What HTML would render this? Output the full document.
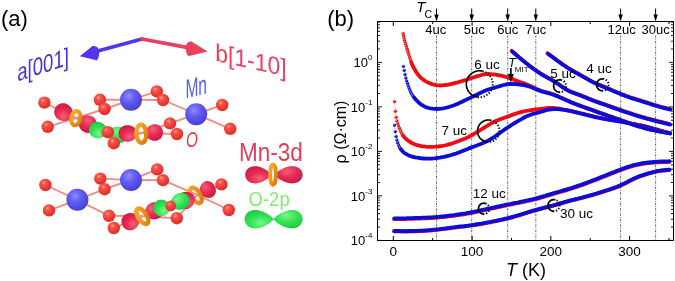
<!DOCTYPE html>
<html><head><meta charset="utf-8"><title>Figure</title>
<style>html,body{margin:0;padding:0;background:#fff;}svg{display:block}</style></head>
<body>
<svg width="675" height="281" viewBox="0 0 675 281">
<rect width="675" height="281" fill="#fff"/>

<defs>
<radialGradient id="gR" cx="0.38" cy="0.32" r="0.75">
 <stop offset="0" stop-color="#ffa898"/><stop offset="0.22" stop-color="#f8564c"/><stop offset="0.6" stop-color="#ee3a32"/><stop offset="1" stop-color="#d42a26"/>
</radialGradient>
<radialGradient id="gB" cx="0.40" cy="0.32" r="0.75">
 <stop offset="0" stop-color="#8f8cff"/><stop offset="0.4" stop-color="#605cf2"/><stop offset="0.85" stop-color="#4a44d8"/><stop offset="1" stop-color="#3a34b8"/>
</radialGradient>
<radialGradient id="gL" cx="0.45" cy="0.3" r="0.8">
 <stop offset="0" stop-color="#f8607c"/><stop offset="0.45" stop-color="#e62a52"/><stop offset="1" stop-color="#c01840"/>
</radialGradient>
<radialGradient id="gG" cx="0.45" cy="0.3" r="0.8">
 <stop offset="0" stop-color="#7cf58a"/><stop offset="0.45" stop-color="#32e455"/><stop offset="1" stop-color="#1cc040"/>
</radialGradient>
<linearGradient id="gO" x1="0" y1="0" x2="1" y2="1">
 <stop offset="0" stop-color="#f8ac30"/><stop offset="0.5" stop-color="#f0941a"/><stop offset="1" stop-color="#d47a10"/>
</linearGradient>
</defs>
<line x1="131" y1="99.8" x2="99.9" y2="99.8" stroke="#ef8e84" stroke-width="1.9" stroke-linecap="round"/>
<line x1="131" y1="99.8" x2="104.6" y2="109" stroke="#ef8e84" stroke-width="1.9" stroke-linecap="round"/>
<line x1="131" y1="99.8" x2="156.8" y2="91.4" stroke="#ef8e84" stroke-width="1.9" stroke-linecap="round"/>
<line x1="131" y1="99.8" x2="163" y2="100" stroke="#ef8e84" stroke-width="1.9" stroke-linecap="round"/>
<line x1="196.2" y1="114.2" x2="163" y2="100" stroke="#ef8e84" stroke-width="1.9" stroke-linecap="round"/>
<line x1="196.2" y1="114.2" x2="170" y2="123.4" stroke="#ef8e84" stroke-width="1.9" stroke-linecap="round"/>
<line x1="196.2" y1="114.2" x2="222.2" y2="105" stroke="#ef8e84" stroke-width="1.9" stroke-linecap="round"/>
<line x1="196.2" y1="114.2" x2="230.2" y2="128.8" stroke="#ef8e84" stroke-width="1.9" stroke-linecap="round"/>
<line x1="75.8" y1="118.2" x2="44.4" y2="102.6" stroke="#ef8e84" stroke-width="1.9" stroke-linecap="round"/>
<line x1="75.8" y1="118.2" x2="47.7" y2="126.8" stroke="#ef8e84" stroke-width="1.9" stroke-linecap="round"/>
<line x1="75.8" y1="118.2" x2="104.6" y2="109" stroke="#ef8e84" stroke-width="1.9" stroke-linecap="round"/>
<line x1="75.8" y1="118.2" x2="107.8" y2="132.2" stroke="#ef8e84" stroke-width="1.9" stroke-linecap="round"/>
<line x1="141.5" y1="133" x2="107.8" y2="132.2" stroke="#ef8e84" stroke-width="1.9" stroke-linecap="round"/>
<line x1="141.5" y1="133" x2="113.8" y2="143.2" stroke="#ef8e84" stroke-width="1.9" stroke-linecap="round"/>
<line x1="141.5" y1="133" x2="170" y2="123.4" stroke="#ef8e84" stroke-width="1.9" stroke-linecap="round"/>
<line x1="141.5" y1="133" x2="177" y2="134" stroke="#ef8e84" stroke-width="1.9" stroke-linecap="round"/>
<circle cx="44.4" cy="102.6" r="6.2" fill="url(#gR)"/>
<circle cx="47.7" cy="126.8" r="6.2" fill="url(#gR)"/>
<circle cx="99.9" cy="99.8" r="6.2" fill="url(#gR)"/>
<circle cx="156.8" cy="91.4" r="6.2" fill="url(#gR)"/>
<circle cx="131" cy="99.8" r="11" fill="url(#gB)"/>
<circle cx="196.2" cy="114.2" r="11" fill="url(#gB)"/>
<circle cx="104.6" cy="109" r="6.2" fill="url(#gR)"/>
<circle cx="163" cy="100" r="6.2" fill="url(#gR)"/>
<circle cx="222.2" cy="105" r="6.2" fill="url(#gR)"/>
<circle cx="230.2" cy="128.8" r="6.2" fill="url(#gR)"/>
<circle cx="170" cy="123.4" r="6.2" fill="url(#gR)"/>
<path transform="translate(75.8,118.2) rotate(26)" d="M3.2,-0.0 L3.3,-0.6 L3.5,-1.4 L3.8,-2.2 L4.3,-3.1 L4.9,-4.0 L5.6,-4.9 L6.4,-5.7 L7.3,-6.5 L8.2,-7.2 L9.3,-7.8 L10.4,-8.2 L11.5,-8.5 L12.6,-8.7 L13.7,-8.8 L14.8,-8.7 L15.9,-8.5 L17.0,-8.1 L17.9,-7.6 L18.8,-7.0 L19.6,-6.2 L20.3,-5.3 L20.9,-4.4 L21.4,-3.4 L21.7,-2.3 L21.9,-1.1 L22.0,-0.0 L21.9,1.1 L21.7,2.3 L21.4,3.4 L20.9,4.4 L20.3,5.3 L19.6,6.2 L18.8,7.0 L17.9,7.6 L17.0,8.1 L15.9,8.5 L14.8,8.7 L13.7,8.8 L12.6,8.7 L11.5,8.5 L10.4,8.2 L9.3,7.8 L8.2,7.2 L7.3,6.5 L6.4,5.7 L5.6,4.9 L4.9,4.0 L4.3,3.1 L3.8,2.2 L3.5,1.4 L3.3,0.6 L3.2,0.0Z" fill="url(#gL)"/>
<path transform="translate(75.8,118.2) rotate(206)" d="M3.2,-0.0 L3.3,-0.6 L3.5,-1.4 L3.8,-2.2 L4.3,-3.1 L5.0,-4.0 L5.7,-4.9 L6.5,-5.7 L7.5,-6.5 L8.5,-7.2 L9.6,-7.8 L10.7,-8.2 L11.9,-8.5 L13.1,-8.7 L14.3,-8.8 L15.5,-8.7 L16.6,-8.5 L17.7,-8.1 L18.7,-7.6 L19.7,-7.0 L20.5,-6.2 L21.2,-5.3 L21.9,-4.4 L22.4,-3.4 L22.7,-2.3 L22.9,-1.1 L23.0,-0.0 L22.9,1.1 L22.7,2.3 L22.4,3.4 L21.9,4.4 L21.2,5.3 L20.5,6.2 L19.7,7.0 L18.7,7.6 L17.7,8.1 L16.6,8.5 L15.5,8.7 L14.3,8.8 L13.1,8.7 L11.9,8.5 L10.7,8.2 L9.6,7.8 L8.5,7.2 L7.5,6.5 L6.5,5.7 L5.7,4.9 L5.0,4.0 L4.3,3.1 L3.8,2.2 L3.5,1.4 L3.3,0.6 L3.2,0.0Z" fill="url(#gL)"/>
<ellipse transform="translate(75.8,118.2) rotate(12)" cx="0" cy="0" rx="4.6" ry="7.2" fill="none" stroke="url(#gO)" stroke-width="4"/>
<path transform="translate(107.8,132.2) rotate(15)" d="M0.0,-0.0 L0.1,-0.5 L0.3,-1.3 L0.6,-2.1 L1.1,-2.9 L1.7,-3.8 L2.5,-4.6 L3.3,-5.4 L4.2,-6.1 L5.2,-6.7 L6.3,-7.2 L7.4,-7.7 L8.6,-8.0 L9.8,-8.1 L10.9,-8.2 L12.1,-8.1 L13.2,-7.9 L14.3,-7.6 L15.3,-7.1 L16.2,-6.5 L17.0,-5.8 L17.8,-5.0 L18.4,-4.1 L18.9,-3.1 L19.2,-2.1 L19.4,-1.1 L19.5,-0.0 L19.4,1.1 L19.2,2.1 L18.9,3.1 L18.4,4.1 L17.8,5.0 L17.0,5.8 L16.2,6.5 L15.3,7.1 L14.3,7.6 L13.2,7.9 L12.1,8.1 L10.9,8.2 L9.8,8.1 L8.6,8.0 L7.4,7.7 L6.3,7.2 L5.2,6.7 L4.2,6.1 L3.3,5.4 L2.5,4.6 L1.7,3.8 L1.1,2.9 L0.6,2.1 L0.3,1.3 L0.1,0.5 L0.0,0.0Z" fill="url(#gG)"/>
<path transform="translate(107.8,132.2) rotate(192)" d="M0.0,-0.0 L0.1,-0.5 L0.3,-1.3 L0.6,-2.1 L1.1,-2.9 L1.7,-3.8 L2.4,-4.6 L3.2,-5.4 L4.1,-6.1 L5.1,-6.7 L6.1,-7.2 L7.2,-7.7 L8.4,-8.0 L9.5,-8.1 L10.6,-8.2 L11.8,-8.1 L12.9,-7.9 L13.9,-7.6 L14.9,-7.1 L15.8,-6.5 L16.6,-5.8 L17.3,-5.0 L17.9,-4.1 L18.4,-3.1 L18.7,-2.1 L18.9,-1.1 L19.0,-0.0 L18.9,1.1 L18.7,2.1 L18.4,3.1 L17.9,4.1 L17.3,5.0 L16.6,5.8 L15.8,6.5 L14.9,7.1 L13.9,7.6 L12.9,7.9 L11.8,8.1 L10.6,8.2 L9.5,8.1 L8.4,8.0 L7.2,7.7 L6.1,7.2 L5.1,6.7 L4.1,6.1 L3.2,5.4 L2.4,4.6 L1.7,3.8 L1.1,2.9 L0.6,2.1 L0.3,1.3 L0.1,0.5 L0.0,0.0Z" fill="url(#gG)"/>
<path transform="translate(141.5,133) rotate(-2)" d="M3.2,-0.0 L3.3,-0.6 L3.5,-1.3 L3.8,-2.1 L4.2,-3.0 L4.8,-3.8 L5.5,-4.6 L6.3,-5.4 L7.2,-6.1 L8.1,-6.8 L9.1,-7.3 L10.2,-7.7 L11.2,-8.1 L12.4,-8.2 L13.5,-8.3 L14.5,-8.2 L15.6,-8.0 L16.6,-7.6 L17.5,-7.2 L18.4,-6.6 L19.2,-5.8 L19.9,-5.0 L20.5,-4.1 L20.9,-3.2 L21.2,-2.1 L21.4,-1.1 L21.5,-0.0 L21.4,1.1 L21.2,2.1 L20.9,3.2 L20.5,4.1 L19.9,5.0 L19.2,5.8 L18.4,6.6 L17.5,7.2 L16.6,7.6 L15.6,8.0 L14.5,8.2 L13.5,8.3 L12.4,8.2 L11.2,8.1 L10.2,7.7 L9.1,7.3 L8.1,6.8 L7.2,6.1 L6.3,5.4 L5.5,4.6 L4.8,3.8 L4.2,3.0 L3.8,2.1 L3.5,1.3 L3.3,0.6 L3.2,0.0Z" fill="url(#gL)"/>
<path transform="translate(141.5,133) rotate(178)" d="M3.2,-0.0 L3.3,-0.6 L3.5,-1.3 L3.8,-2.1 L4.3,-3.0 L5.0,-3.8 L5.7,-4.6 L6.5,-5.4 L7.5,-6.1 L8.5,-6.8 L9.6,-7.3 L10.7,-7.7 L11.9,-8.1 L13.1,-8.2 L14.3,-8.3 L15.5,-8.2 L16.6,-8.0 L17.7,-7.6 L18.7,-7.2 L19.7,-6.6 L20.5,-5.8 L21.2,-5.0 L21.9,-4.1 L22.4,-3.2 L22.7,-2.1 L22.9,-1.1 L23.0,-0.0 L22.9,1.1 L22.7,2.1 L22.4,3.2 L21.9,4.1 L21.2,5.0 L20.5,5.8 L19.7,6.6 L18.7,7.2 L17.7,7.6 L16.6,8.0 L15.5,8.2 L14.3,8.3 L13.1,8.2 L11.9,8.1 L10.7,7.7 L9.6,7.3 L8.5,6.8 L7.5,6.1 L6.5,5.4 L5.7,4.6 L5.0,3.8 L4.3,3.0 L3.8,2.1 L3.5,1.3 L3.3,0.6 L3.2,0.0Z" fill="url(#gL)"/>
<ellipse transform="translate(141.3,133.8) rotate(-3)" cx="0" cy="0" rx="5" ry="9" fill="none" stroke="url(#gO)" stroke-width="4.4"/>
<circle cx="107.8" cy="132.2" r="6.2" fill="url(#gR)"/>
<circle cx="113.8" cy="143.2" r="6.2" fill="url(#gR)"/>
<circle cx="177" cy="134" r="6.2" fill="url(#gR)"/>
<line x1="77.4" y1="199.8" x2="45.4" y2="185" stroke="#ef8e84" stroke-width="1.9" stroke-linecap="round"/>
<line x1="77.4" y1="199.8" x2="49" y2="210.4" stroke="#ef8e84" stroke-width="1.9" stroke-linecap="round"/>
<line x1="77.4" y1="199.8" x2="104.6" y2="189.2" stroke="#ef8e84" stroke-width="1.9" stroke-linecap="round"/>
<line x1="77.4" y1="199.8" x2="109" y2="215.8" stroke="#ef8e84" stroke-width="1.9" stroke-linecap="round"/>
<line x1="131" y1="180" x2="100.3" y2="178.6" stroke="#ef8e84" stroke-width="1.9" stroke-linecap="round"/>
<line x1="131" y1="180" x2="104.6" y2="189.2" stroke="#ef8e84" stroke-width="1.9" stroke-linecap="round"/>
<line x1="131" y1="180" x2="157.2" y2="169.4" stroke="#ef8e84" stroke-width="1.9" stroke-linecap="round"/>
<line x1="131" y1="180" x2="162.9" y2="180.2" stroke="#ef8e84" stroke-width="1.9" stroke-linecap="round"/>
<line x1="142.3" y1="216.2" x2="109" y2="215.8" stroke="#ef8e84" stroke-width="1.9" stroke-linecap="round"/>
<line x1="142.3" y1="216.2" x2="113.8" y2="228" stroke="#ef8e84" stroke-width="1.9" stroke-linecap="round"/>
<line x1="142.3" y1="216.2" x2="176.8" y2="218.2" stroke="#ef8e84" stroke-width="1.9" stroke-linecap="round"/>
<line x1="197.3" y1="194.8" x2="162.9" y2="180.2" stroke="#ef8e84" stroke-width="1.9" stroke-linecap="round"/>
<line x1="197.3" y1="194.8" x2="221.4" y2="184.4" stroke="#ef8e84" stroke-width="1.9" stroke-linecap="round"/>
<line x1="197.3" y1="194.8" x2="228.8" y2="210" stroke="#ef8e84" stroke-width="1.9" stroke-linecap="round"/>
<line x1="197.3" y1="194.8" x2="176.8" y2="218.2" stroke="#ef8e84" stroke-width="1.9" stroke-linecap="round"/>
<circle cx="45.4" cy="185" r="6.2" fill="url(#gR)"/>
<circle cx="49" cy="210.4" r="6.2" fill="url(#gR)"/>
<circle cx="100.3" cy="178.6" r="6.2" fill="url(#gR)"/>
<circle cx="157.2" cy="169.4" r="6.2" fill="url(#gR)"/>
<circle cx="77.4" cy="199.8" r="11" fill="url(#gB)"/>
<circle cx="131" cy="180" r="11" fill="url(#gB)"/>
<circle cx="104.6" cy="189.2" r="6.2" fill="url(#gR)"/>
<circle cx="162.9" cy="180.2" r="6.2" fill="url(#gR)"/>
<circle cx="221.4" cy="184.4" r="6.2" fill="url(#gR)"/>
<circle cx="228.8" cy="210" r="6.2" fill="url(#gR)"/>
<circle cx="109" cy="215.8" r="6.2" fill="url(#gR)"/>
<path transform="translate(142.3,216.2) rotate(-24)" d="M3.2,-0.0 L3.3,-0.6 L3.5,-1.3 L3.8,-2.2 L4.2,-3.1 L4.8,-3.9 L5.5,-4.8 L6.3,-5.6 L7.2,-6.4 L8.1,-7.0 L9.1,-7.6 L10.2,-8.0 L11.2,-8.4 L12.4,-8.5 L13.5,-8.6 L14.5,-8.5 L15.6,-8.3 L16.6,-7.9 L17.5,-7.4 L18.4,-6.8 L19.2,-6.1 L19.9,-5.2 L20.5,-4.3 L20.9,-3.3 L21.2,-2.2 L21.4,-1.1 L21.5,-0.0 L21.4,1.1 L21.2,2.2 L20.9,3.3 L20.5,4.3 L19.9,5.2 L19.2,6.1 L18.4,6.8 L17.5,7.4 L16.6,7.9 L15.6,8.3 L14.5,8.5 L13.5,8.6 L12.4,8.5 L11.2,8.4 L10.2,8.0 L9.1,7.6 L8.1,7.0 L7.2,6.4 L6.3,5.6 L5.5,4.8 L4.8,3.9 L4.2,3.1 L3.8,2.2 L3.5,1.3 L3.3,0.6 L3.2,0.0Z" fill="url(#gL)"/>
<path transform="translate(142.3,216.2) rotate(156)" d="M3.2,-0.0 L3.3,-0.6 L3.5,-1.3 L3.8,-2.2 L4.3,-3.1 L4.9,-3.9 L5.6,-4.8 L6.4,-5.6 L7.3,-6.4 L8.2,-7.0 L9.3,-7.6 L10.4,-8.0 L11.5,-8.4 L12.6,-8.5 L13.7,-8.6 L14.8,-8.5 L15.9,-8.3 L17.0,-7.9 L17.9,-7.4 L18.8,-6.8 L19.6,-6.1 L20.3,-5.2 L20.9,-4.3 L21.4,-3.3 L21.7,-2.2 L21.9,-1.1 L22.0,-0.0 L21.9,1.1 L21.7,2.2 L21.4,3.3 L20.9,4.3 L20.3,5.2 L19.6,6.1 L18.8,6.8 L17.9,7.4 L17.0,7.9 L15.9,8.3 L14.8,8.5 L13.7,8.6 L12.6,8.5 L11.5,8.4 L10.4,8.0 L9.3,7.6 L8.2,7.0 L7.3,6.4 L6.4,5.6 L5.6,4.8 L4.9,3.9 L4.3,3.1 L3.8,2.2 L3.5,1.3 L3.3,0.6 L3.2,0.0Z" fill="url(#gL)"/>
<ellipse transform="translate(142.3,216.2) rotate(-33)" cx="0" cy="0" rx="4.2" ry="8.8" fill="none" stroke="url(#gO)" stroke-width="4.6"/>
<path transform="translate(197.3,194.8) rotate(-26)" d="M3.2,-0.0 L3.3,-0.6 L3.4,-1.3 L3.7,-2.2 L4.1,-3.1 L4.6,-3.9 L5.2,-4.8 L5.9,-5.6 L6.7,-6.4 L7.6,-7.0 L8.5,-7.6 L9.4,-8.0 L10.4,-8.4 L11.4,-8.5 L12.3,-8.6 L13.3,-8.5 L14.2,-8.3 L15.1,-7.9 L16.0,-7.4 L16.8,-6.8 L17.5,-6.1 L18.1,-5.2 L18.6,-4.3 L19.0,-3.3 L19.3,-2.2 L19.4,-1.1 L19.5,-0.0 L19.4,1.1 L19.3,2.2 L19.0,3.3 L18.6,4.3 L18.1,5.2 L17.5,6.1 L16.8,6.8 L16.0,7.4 L15.1,7.9 L14.2,8.3 L13.3,8.5 L12.3,8.6 L11.4,8.5 L10.4,8.4 L9.4,8.0 L8.5,7.6 L7.6,7.0 L6.7,6.4 L5.9,5.6 L5.2,4.8 L4.6,3.9 L4.1,3.1 L3.7,2.2 L3.4,1.3 L3.3,0.6 L3.2,0.0Z" fill="url(#gL)"/>
<ellipse transform="translate(195.8,195.4) rotate(-32)" cx="0" cy="0" rx="4.4" ry="8.6" fill="none" stroke="url(#gO)" stroke-width="4.4"/>
<path transform="translate(197.3,194.8) rotate(154)" d="M3.2,-0.0 L3.3,-0.6 L3.5,-1.3 L3.8,-2.2 L4.2,-3.1 L4.8,-3.9 L5.4,-4.8 L6.2,-5.6 L7.0,-6.4 L8.0,-7.0 L8.9,-7.6 L10.0,-8.0 L11.0,-8.4 L12.1,-8.5 L13.2,-8.6 L14.2,-8.5 L15.3,-8.3 L16.2,-7.9 L17.2,-7.4 L18.0,-6.8 L18.8,-6.1 L19.4,-5.2 L20.0,-4.3 L20.4,-3.3 L20.7,-2.2 L20.9,-1.1 L21.0,-0.0 L20.9,1.1 L20.7,2.2 L20.4,3.3 L20.0,4.3 L19.4,5.2 L18.8,6.1 L18.0,6.8 L17.2,7.4 L16.2,7.9 L15.3,8.3 L14.2,8.5 L13.2,8.6 L12.1,8.5 L11.0,8.4 L10.0,8.0 L8.9,7.6 L8.0,7.0 L7.0,6.4 L6.2,5.6 L5.4,4.8 L4.8,3.9 L4.2,3.1 L3.8,2.2 L3.5,1.3 L3.3,0.6 L3.2,0.0Z" fill="url(#gL)"/>
<path transform="translate(170.7,205.9) rotate(-25)" d="M0.0,-0.0 L0.1,-0.6 L0.3,-1.3 L0.6,-2.1 L1.1,-3.0 L1.8,-3.8 L2.5,-4.6 L3.4,-5.4 L4.3,-6.1 L5.4,-6.8 L6.5,-7.3 L7.6,-7.7 L8.8,-8.1 L10.0,-8.2 L11.2,-8.3 L12.4,-8.2 L13.5,-8.0 L14.6,-7.6 L15.7,-7.2 L16.6,-6.6 L17.5,-5.8 L18.2,-5.0 L18.9,-4.1 L19.4,-3.2 L19.7,-2.1 L19.9,-1.1 L20.0,-0.0 L19.9,1.1 L19.7,2.1 L19.4,3.2 L18.9,4.1 L18.2,5.0 L17.5,5.8 L16.6,6.6 L15.7,7.2 L14.6,7.6 L13.5,8.0 L12.4,8.2 L11.2,8.3 L10.0,8.2 L8.8,8.1 L7.6,7.7 L6.5,7.3 L5.4,6.8 L4.3,6.1 L3.4,5.4 L2.5,4.6 L1.8,3.8 L1.1,3.0 L0.6,2.1 L0.3,1.3 L0.1,0.6 L0.0,0.0Z" fill="url(#gG)"/>
<path transform="translate(170.7,205.9) rotate(168)" d="M0.0,-0.0 L0.1,-0.6 L0.3,-1.3 L0.6,-2.1 L1.0,-3.0 L1.5,-3.8 L2.2,-4.6 L2.9,-5.4 L3.8,-6.1 L4.7,-6.8 L5.6,-7.3 L6.7,-7.7 L7.7,-8.1 L8.8,-8.2 L9.8,-8.3 L10.8,-8.2 L11.9,-8.0 L12.8,-7.6 L13.7,-7.2 L14.6,-6.6 L15.3,-5.8 L16.0,-5.0 L16.5,-4.1 L16.9,-3.2 L17.2,-2.1 L17.4,-1.1 L17.5,-0.0 L17.4,1.1 L17.2,2.1 L16.9,3.2 L16.5,4.1 L16.0,5.0 L15.3,5.8 L14.6,6.6 L13.7,7.2 L12.8,7.6 L11.9,8.0 L10.8,8.2 L9.8,8.3 L8.8,8.2 L7.7,8.1 L6.7,7.7 L5.6,7.3 L4.7,6.8 L3.8,6.1 L2.9,5.4 L2.2,4.6 L1.5,3.8 L1.0,3.0 L0.6,2.1 L0.3,1.3 L0.1,0.6 L0.0,0.0Z" fill="url(#gG)"/>
<circle cx="170.7" cy="205.9" r="5.3" fill="url(#gR)"/>
<circle cx="113.8" cy="228" r="6.2" fill="url(#gR)"/>
<circle cx="176.8" cy="218.2" r="6.2" fill="url(#gR)"/>
<line x1="142" y1="39" x2="94" y2="52" stroke="#5633ee" stroke-width="3.7" stroke-linecap="round"/>
<path d="M79.8,56.2 L92.5,46 Q99.5,45.5 99.2,52.5 Q99,59 96.5,60.2 Z" fill="#5633ee"/>
<line x1="142" y1="39" x2="188" y2="47.6" stroke="#ec3e5e" stroke-width="3.7" stroke-linecap="round"/>
<path d="M207.6,51.4 L191,41.2 Q185.5,42 185.8,48.5 Q186,55 189,56 Z" fill="#ec3e5e"/>
<text x="1" y="26" font-size="22" font-family="Liberation Sans, Arial, sans-serif">(a)</text>
<text x="327.2" y="26" font-size="22" font-family="Liberation Sans, Arial, sans-serif">(b)</text>
<text transform="translate(17.2,81.6) skewY(-18) scale(0.745,1)" font-size="25" fill="#4a2edc"  font-family="Liberation Sans, Arial, sans-serif">a[001]</text>
<text transform="translate(215.3,60.8) skewY(12.5) scale(0.935,1)" font-size="24.5" fill="#ec3e5e"  font-family="Liberation Sans, Arial, sans-serif">b[1-10]</text>
<text transform="translate(185.4,98.6) skewY(-13) scale(0.575,1)" font-size="27" fill="#5560e8"  font-family="Liberation Sans, Arial, sans-serif">Mn</text>
<text transform="translate(185.9,146.6) rotate(0) scale(0.68,1)" font-size="22.5" fill="#e03c34" font-style="italic" font-family="Liberation Sans, Arial, sans-serif">O</text>
<text transform="translate(239,161.3) rotate(0) scale(0.9,1)" font-size="25" fill="#e0405e"  font-family="Liberation Sans, Arial, sans-serif">Mn-3d</text>
<text transform="translate(248.6,205.8) rotate(0) scale(0.88,1)" font-size="21" fill="#80ee72"  font-family="Liberation Sans, Arial, sans-serif">O-2p</text>
<path transform="translate(273,174.8) rotate(0)" d="M1.5,-0.0 L1.6,-0.2 L1.9,-0.6 L2.4,-1.1 L3.1,-1.8 L4.0,-2.5 L5.0,-3.4 L6.2,-4.2 L7.6,-5.0 L9.0,-5.8 L10.6,-6.6 L12.2,-7.2 L13.9,-7.8 L15.6,-8.2 L17.2,-8.5 L18.9,-8.6 L20.5,-8.5 L22.1,-8.3 L23.5,-7.9 L24.9,-7.3 L26.1,-6.6 L27.1,-5.8 L28.0,-4.8 L28.7,-3.7 L29.2,-2.5 L29.5,-1.3 L29.6,-0.0 L29.5,1.3 L29.2,2.5 L28.7,3.7 L28.0,4.8 L27.1,5.8 L26.1,6.6 L24.9,7.3 L23.5,7.9 L22.1,8.3 L20.5,8.5 L18.9,8.6 L17.2,8.5 L15.6,8.2 L13.9,7.8 L12.2,7.2 L10.6,6.6 L9.0,5.8 L7.6,5.0 L6.2,4.2 L5.0,3.4 L4.0,2.5 L3.1,1.8 L2.4,1.1 L1.9,0.6 L1.6,0.2 L1.5,0.0Z" fill="url(#gL)"/>
<path transform="translate(273,174.8) rotate(180)" d="M1.5,-0.0 L1.6,-0.2 L1.9,-0.6 L2.4,-1.1 L3.0,-1.8 L3.8,-2.5 L4.8,-3.4 L5.9,-4.2 L7.2,-5.0 L8.5,-5.8 L10.0,-6.6 L11.5,-7.2 L13.1,-7.8 L14.7,-8.2 L16.2,-8.5 L17.8,-8.6 L19.3,-8.5 L20.8,-8.3 L22.1,-7.9 L23.4,-7.3 L24.5,-6.6 L25.5,-5.8 L26.3,-4.8 L26.9,-3.7 L27.4,-2.5 L27.7,-1.3 L27.8,-0.0 L27.7,1.3 L27.4,2.5 L26.9,3.7 L26.3,4.8 L25.5,5.8 L24.5,6.6 L23.4,7.3 L22.1,7.9 L20.8,8.3 L19.3,8.5 L17.8,8.6 L16.2,8.5 L14.7,8.2 L13.1,7.8 L11.5,7.2 L10.0,6.6 L8.5,5.8 L7.2,5.0 L5.9,4.2 L4.8,3.4 L3.8,2.5 L3.0,1.8 L2.4,1.1 L1.9,0.6 L1.6,0.2 L1.5,0.0Z" fill="url(#gL)"/>
<ellipse transform="translate(273,174.6) rotate(0)" cx="0" cy="0" rx="2.9" ry="10.2" fill="none" stroke="url(#gO)" stroke-width="3.8"/>
<path transform="translate(273.6,219.2) rotate(0)" d="M0.0,-0.0 L0.1,-0.2 L0.4,-0.6 L0.9,-1.2 L1.7,-1.9 L2.6,-2.7 L3.6,-3.6 L4.9,-4.5 L6.3,-5.4 L7.8,-6.3 L9.4,-7.0 L11.0,-7.8 L12.8,-8.3 L14.5,-8.8 L16.2,-9.1 L18.0,-9.2 L19.6,-9.1 L21.2,-8.9 L22.7,-8.5 L24.1,-7.9 L25.4,-7.1 L26.4,-6.2 L27.3,-5.1 L28.1,-3.9 L28.6,-2.7 L28.9,-1.3 L29.0,-0.0 L28.9,1.3 L28.6,2.7 L28.1,3.9 L27.3,5.1 L26.4,6.2 L25.4,7.1 L24.1,7.9 L22.7,8.5 L21.2,8.9 L19.6,9.1 L18.0,9.2 L16.2,9.1 L14.5,8.8 L12.8,8.3 L11.0,7.8 L9.4,7.0 L7.8,6.3 L6.3,5.4 L4.9,4.5 L3.6,3.6 L2.6,2.7 L1.7,1.9 L0.9,1.2 L0.4,0.6 L0.1,0.2 L0.0,0.0Z" fill="url(#gG)"/>
<path transform="translate(273.6,219.2) rotate(180)" d="M0.0,-0.0 L0.1,-0.2 L0.4,-0.6 L0.9,-1.2 L1.7,-1.9 L2.6,-2.7 L3.6,-3.6 L4.9,-4.5 L6.3,-5.4 L7.8,-6.3 L9.4,-7.0 L11.0,-7.8 L12.8,-8.3 L14.5,-8.8 L16.2,-9.1 L18.0,-9.2 L19.6,-9.1 L21.2,-8.9 L22.7,-8.5 L24.1,-7.9 L25.4,-7.1 L26.4,-6.2 L27.3,-5.1 L28.1,-3.9 L28.6,-2.7 L28.9,-1.3 L29.0,-0.0 L28.9,1.3 L28.6,2.7 L28.1,3.9 L27.3,5.1 L26.4,6.2 L25.4,7.1 L24.1,7.9 L22.7,8.5 L21.2,8.9 L19.6,9.1 L18.0,9.2 L16.2,9.1 L14.5,8.8 L12.8,8.3 L11.0,7.8 L9.4,7.0 L7.8,6.3 L6.3,5.4 L4.9,4.5 L3.6,3.6 L2.6,2.7 L1.7,1.9 L0.9,1.2 L0.4,0.6 L0.1,0.2 L0.0,0.0Z" fill="url(#gG)"/>
<defs><radialGradient id="gMR" cx="0.35" cy="0.3" r="0.7"><stop offset="0" stop-color="#ff8a8a"/><stop offset="0.55" stop-color="#ee0c12"/><stop offset="1" stop-color="#d0080c"/></radialGradient><radialGradient id="gMB" cx="0.35" cy="0.3" r="0.7"><stop offset="0" stop-color="#8a8aff"/><stop offset="0.55" stop-color="#0c0cd8"/><stop offset="1" stop-color="#0808b8"/></radialGradient></defs>
<line x1="436.5" y1="35.5" x2="436.5" y2="240.5" stroke="#555" stroke-width="0.9" stroke-dasharray="2.2 1.2 0.8 1.2"/>
<line x1="436.5" y1="8.5" x2="436.5" y2="17" stroke="#000" stroke-width="1"/>
<path d="M434.3,14.5 L438.7,14.5 L436.5,21.5 Z" fill="#000"/>
<line x1="471.7" y1="35.5" x2="471.7" y2="240.5" stroke="#555" stroke-width="0.9" stroke-dasharray="2.2 1.2 0.8 1.2"/>
<line x1="471.7" y1="8.5" x2="471.7" y2="17" stroke="#000" stroke-width="1"/>
<path d="M469.5,14.5 L473.9,14.5 L471.7,21.5 Z" fill="#000"/>
<line x1="507.7" y1="35.5" x2="507.7" y2="240.5" stroke="#555" stroke-width="0.9" stroke-dasharray="2.2 1.2 0.8 1.2"/>
<line x1="507.7" y1="8.5" x2="507.7" y2="17" stroke="#000" stroke-width="1"/>
<path d="M505.5,14.5 L509.9,14.5 L507.7,21.5 Z" fill="#000"/>
<line x1="535.8" y1="35.5" x2="535.8" y2="240.5" stroke="#555" stroke-width="0.9" stroke-dasharray="2.2 1.2 0.8 1.2"/>
<line x1="535.8" y1="8.5" x2="535.8" y2="17" stroke="#000" stroke-width="1"/>
<path d="M533.5999999999999,14.5 L538.0,14.5 L535.8,21.5 Z" fill="#000"/>
<line x1="620.6" y1="35.5" x2="620.6" y2="240.5" stroke="#555" stroke-width="0.9" stroke-dasharray="2.2 1.2 0.8 1.2"/>
<line x1="620.6" y1="8.5" x2="620.6" y2="17" stroke="#000" stroke-width="1"/>
<path d="M618.4,14.5 L622.8000000000001,14.5 L620.6,21.5 Z" fill="#000"/>
<line x1="655.6" y1="35.5" x2="655.6" y2="240.5" stroke="#555" stroke-width="0.9" stroke-dasharray="2.2 1.2 0.8 1.2"/>
<line x1="655.6" y1="8.5" x2="655.6" y2="17" stroke="#000" stroke-width="1"/>
<path d="M653.4,14.5 L657.8000000000001,14.5 L655.6,21.5 Z" fill="#000"/>
<path d="M394.2,219.2 L396.1,219.2 L398.0,219.1 L399.9,219.1 L401.8,219.0 L403.6,219.0 L405.5,219.0 L407.4,218.9 L409.3,218.9 L411.2,218.8 L413.1,218.8 L415.0,218.7 L416.9,218.6 L418.8,218.6 L420.6,218.5 L422.5,218.4 L424.4,218.4 L426.3,218.3 L428.2,218.2 L430.1,218.1 L432.0,218.0 L433.9,217.8 L435.7,217.7 L437.6,217.5 L439.5,217.4 L441.4,217.2 L443.3,217.0 L445.2,216.8 L447.0,216.6 L448.9,216.4 L450.8,216.2 L452.7,216.0 L454.5,215.7 L456.4,215.4 L458.3,215.2 L460.1,214.9 L462.0,214.6 L463.9,214.3 L465.7,214.0 L467.6,213.6 L469.5,213.3 L471.3,212.9 L473.2,212.6 L475.0,212.2 L476.9,211.8 L478.7,211.4 L480.6,211.0 L482.4,210.6 L484.3,210.2 L486.1,209.8 L488.0,209.4 L489.8,209.0 L491.6,208.6 L493.5,208.2 L495.3,207.8 L497.2,207.4 L499.0,207.0 L500.9,206.6 L502.7,206.2 L504.6,205.8 L506.4,205.4 L508.3,205.0 L510.1,204.7 L512.0,204.3 L513.8,203.9 L515.7,203.5 L517.5,203.2 L519.4,202.8 L521.3,202.4 L523.1,202.0 L525.0,201.6 L526.8,201.2 L528.6,200.8 L530.5,200.4 L532.3,200.0 L534.2,199.5 L536.0,199.1 L537.8,198.6 L539.6,198.1 L541.5,197.5 L543.3,197.0 L545.1,196.5 L546.9,195.9 L548.7,195.4 L550.5,194.8 L552.3,194.3 L554.1,193.7 L555.9,193.2 L557.8,192.7 L559.6,192.2 L561.4,191.7 L563.2,191.1 L565.0,190.6 L566.8,190.1 L568.6,189.5 L570.5,189.0 L572.3,188.4 L574.1,187.8 L575.8,187.2 L577.6,186.6 L579.4,186.0 L581.2,185.4 L583.0,184.7 L584.8,184.1 L586.5,183.4 L588.3,182.8 L590.1,182.1 L591.8,181.4 L593.6,180.7 L595.4,180.1 L597.1,179.4 L598.9,178.7 L600.6,178.0 L602.4,177.3 L604.1,176.6 L605.9,175.9 L607.6,175.2 L609.4,174.5 L611.2,173.8 L612.9,173.1 L614.7,172.4 L616.4,171.7 L618.2,171.0 L620.0,170.4 L621.7,169.7 L623.5,169.1 L625.3,168.4 L627.1,167.8 L628.9,167.2 L630.7,166.7 L632.5,166.1 L634.3,165.6 L636.2,165.2 L638.0,164.8 L639.9,164.4 L641.7,164.0 L643.6,163.7 L645.5,163.5 L647.3,163.2 L649.2,163.0 L651.1,162.8 L653.0,162.7 L654.9,162.5 L656.8,162.4 L658.6,162.3 L660.5,162.2 L662.4,162.1 L664.3,162.1 L666.2,162.0 L668.1,162.0 L669.5,161.9" fill="none" stroke="#ee0c12" stroke-width="3.8" stroke-linecap="round" stroke-linejoin="round"/>
<path d="M394.2,218.5 L396.1,218.5 L398.0,218.4 L399.9,218.4 L401.8,218.3 L403.6,218.3 L405.5,218.3 L407.4,218.2 L409.3,218.2 L411.2,218.1 L413.1,218.1 L415.0,218.0 L416.9,217.9 L418.8,217.9 L420.6,217.8 L422.5,217.7 L424.4,217.7 L426.3,217.6 L428.2,217.5 L430.1,217.4 L432.0,217.3 L433.9,217.1 L435.7,217.0 L437.6,216.8 L439.5,216.7 L441.4,216.5 L443.3,216.3 L445.2,216.1 L447.0,215.9 L448.9,215.7 L450.8,215.5 L452.7,215.3 L454.5,215.0 L456.4,214.7 L458.3,214.5 L460.1,214.2 L462.0,213.9 L463.9,213.6 L465.7,213.3 L467.6,212.9 L469.5,212.6 L471.3,212.2 L473.2,211.9 L475.0,211.5 L476.9,211.1 L478.7,210.7 L480.6,210.3 L482.4,209.9 L484.3,209.5 L486.1,209.1 L488.0,208.7 L489.8,208.3 L491.6,207.9 L493.5,207.5 L495.3,207.1 L497.2,206.7 L499.0,206.3 L500.9,205.9 L502.7,205.5 L504.6,205.1 L506.4,204.7 L508.3,204.3 L510.1,204.0 L512.0,203.6 L513.8,203.2 L515.7,202.8 L517.5,202.5 L519.4,202.1 L521.3,201.7 L523.1,201.3 L525.0,200.9 L526.8,200.5 L528.6,200.1 L530.5,199.7 L532.3,199.3 L534.2,198.8 L536.0,198.4 L537.8,197.9 L539.6,197.4 L541.5,196.8 L543.3,196.3 L545.1,195.8 L546.9,195.2 L548.7,194.7 L550.5,194.1 L552.3,193.6 L554.1,193.0 L555.9,192.5 L557.8,192.0 L559.6,191.5 L561.4,191.0 L563.2,190.4 L565.0,189.9 L566.8,189.4 L568.6,188.8 L570.5,188.3 L572.3,187.7 L574.1,187.1 L575.8,186.5 L577.6,185.9 L579.4,185.3 L581.2,184.7 L583.0,184.0 L584.8,183.4 L586.5,182.7 L588.3,182.1 L590.1,181.4 L591.8,180.7 L593.6,180.0 L595.4,179.4 L597.1,178.7 L598.9,178.0 L600.6,177.3 L602.4,176.6 L604.1,175.9 L605.9,175.2 L607.6,174.5 L609.4,173.8 L611.2,173.1 L612.9,172.4 L614.7,171.7 L616.4,171.0 L618.2,170.3 L620.0,169.7 L621.7,169.0 L623.5,168.4 L625.3,167.7 L627.1,167.1 L628.9,166.5 L630.7,166.0 L632.5,165.4 L634.3,164.9 L636.2,164.5 L638.0,164.1 L639.9,163.7 L641.7,163.3 L643.6,163.0 L645.5,162.8 L647.3,162.5 L649.2,162.3 L651.1,162.1 L653.0,162.0 L654.9,161.8 L656.8,161.7 L658.6,161.6 L660.5,161.5 L662.4,161.4 L664.3,161.4 L666.2,161.3 L668.1,161.3 L669.5,161.2" fill="none" stroke="#0c0cd8" stroke-width="3.8" stroke-linecap="round" stroke-linejoin="round"/>
<path d="M394.2,231.4 L396.1,231.4 L398.0,231.4 L399.9,231.4 L401.8,231.5 L403.7,231.5 L405.6,231.5 L407.5,231.5 L409.4,231.4 L411.3,231.4 L413.2,231.4 L415.1,231.3 L417.0,231.3 L418.8,231.2 L420.7,231.1 L422.6,231.0 L424.5,230.9 L426.4,230.8 L428.3,230.6 L430.2,230.5 L432.1,230.3 L434.0,230.1 L435.9,229.9 L437.7,229.7 L439.6,229.5 L441.5,229.2 L443.4,229.0 L445.3,228.8 L447.1,228.5 L449.0,228.3 L450.9,228.0 L452.8,227.8 L454.7,227.6 L456.6,227.3 L458.4,227.1 L460.3,226.9 L462.2,226.7 L464.1,226.5 L466.0,226.2 L467.9,226.0 L469.7,225.7 L471.6,225.5 L473.5,225.2 L475.4,224.9 L477.2,224.6 L479.1,224.3 L481.0,224.0 L482.8,223.7 L484.7,223.3 L486.6,223.0 L488.4,222.6 L490.3,222.3 L492.2,221.9 L494.0,221.5 L495.9,221.2 L497.7,220.8 L499.6,220.4 L501.4,220.0 L503.3,219.6 L505.1,219.1 L507.0,218.7 L508.8,218.2 L510.7,217.8 L512.5,217.3 L514.3,216.8 L516.1,216.2 L518.0,215.7 L519.8,215.2 L521.6,214.6 L523.4,214.0 L525.2,213.5 L527.0,212.9 L528.8,212.3 L530.6,211.8 L532.4,211.2 L534.3,210.7 L536.1,210.2 L537.9,209.7 L539.7,209.2 L541.6,208.7 L543.4,208.2 L545.2,207.7 L547.1,207.3 L548.9,206.8 L550.8,206.3 L552.6,205.9 L554.4,205.4 L556.3,204.9 L558.1,204.3 L559.9,203.8 L561.7,203.3 L563.5,202.8 L565.4,202.2 L567.2,201.7 L569.0,201.2 L570.8,200.7 L572.7,200.2 L574.5,199.8 L576.4,199.3 L578.2,198.9 L580.0,198.4 L581.9,198.0 L583.7,197.5 L585.6,197.0 L587.4,196.5 L589.2,196.0 L591.0,195.5 L592.9,195.0 L594.7,194.4 L596.5,193.9 L598.3,193.3 L600.1,192.8 L601.9,192.2 L603.7,191.6 L605.5,191.0 L607.3,190.5 L609.2,189.9 L611.0,189.3 L612.8,188.7 L614.5,188.0 L616.3,187.4 L618.1,186.7 L619.8,186.0 L621.6,185.2 L623.3,184.4 L625.0,183.5 L626.7,182.7 L628.3,181.8 L630.0,180.9 L631.7,180.0 L633.4,179.2 L635.1,178.4 L636.9,177.7 L638.6,176.9 L640.4,176.3 L642.2,175.7 L644.0,175.1 L645.8,174.5 L647.6,173.9 L649.4,173.4 L651.3,172.9 L653.1,172.4 L655.0,172.0 L656.8,171.5 L658.7,171.2 L660.5,170.9 L662.4,170.7 L664.3,170.5 L666.2,170.3 L668.1,170.1 L669.5,170.0" fill="none" stroke="#ee0c12" stroke-width="3.8" stroke-linecap="round" stroke-linejoin="round"/>
<path d="M394.2,231.0 L396.1,231.0 L398.0,231.0 L399.9,231.0 L401.8,231.1 L403.7,231.1 L405.6,231.1 L407.5,231.1 L409.4,231.0 L411.3,231.0 L413.2,231.0 L415.1,230.9 L417.0,230.9 L418.8,230.8 L420.7,230.7 L422.6,230.6 L424.5,230.5 L426.4,230.4 L428.3,230.2 L430.2,230.1 L432.1,229.9 L434.0,229.7 L435.9,229.5 L437.7,229.3 L439.6,229.1 L441.5,228.8 L443.4,228.6 L445.3,228.4 L447.1,228.1 L449.0,227.9 L450.9,227.6 L452.8,227.4 L454.7,227.2 L456.6,226.9 L458.4,226.7 L460.3,226.5 L462.2,226.3 L464.1,226.1 L466.0,225.8 L467.9,225.6 L469.7,225.3 L471.6,225.1 L473.5,224.8 L475.4,224.5 L477.2,224.2 L479.1,223.9 L481.0,223.6 L482.8,223.3 L484.7,222.9 L486.6,222.6 L488.4,222.2 L490.3,221.9 L492.2,221.5 L494.0,221.1 L495.9,220.8 L497.7,220.4 L499.6,220.0 L501.4,219.6 L503.3,219.2 L505.1,218.7 L507.0,218.3 L508.8,217.8 L510.7,217.4 L512.5,216.9 L514.3,216.4 L516.1,215.8 L518.0,215.3 L519.8,214.8 L521.6,214.2 L523.4,213.6 L525.2,213.1 L527.0,212.5 L528.8,211.9 L530.6,211.4 L532.4,210.8 L534.3,210.3 L536.1,209.8 L537.9,209.3 L539.7,208.8 L541.6,208.3 L543.4,207.8 L545.2,207.3 L547.1,206.9 L548.9,206.4 L550.8,205.9 L552.6,205.5 L554.4,205.0 L556.3,204.5 L558.1,203.9 L559.9,203.4 L561.7,202.9 L563.5,202.4 L565.4,201.8 L567.2,201.3 L569.0,200.8 L570.8,200.3 L572.7,199.8 L574.5,199.4 L576.4,198.9 L578.2,198.5 L580.0,198.0 L581.9,197.6 L583.7,197.1 L585.6,196.6 L587.4,196.1 L589.2,195.6 L591.0,195.1 L592.9,194.6 L594.7,194.0 L596.5,193.5 L598.3,192.9 L600.1,192.4 L601.9,191.8 L603.7,191.2 L605.5,190.6 L607.3,190.1 L609.2,189.5 L611.0,188.9 L612.8,188.3 L614.5,187.6 L616.3,187.0 L618.1,186.3 L619.8,185.6 L621.6,184.8 L623.3,184.0 L625.0,183.1 L626.7,182.3 L628.3,181.4 L630.0,180.5 L631.7,179.6 L633.4,178.8 L635.1,178.0 L636.9,177.3 L638.6,176.5 L640.4,175.9 L642.2,175.3 L644.0,174.7 L645.8,174.1 L647.6,173.5 L649.4,173.0 L651.3,172.5 L653.1,172.0 L655.0,171.6 L656.8,171.1 L658.7,170.8 L660.5,170.5 L662.4,170.3 L664.3,170.1 L666.2,169.9 L668.1,169.7 L669.5,169.6" fill="none" stroke="#0c0cd8" stroke-width="3.8" stroke-linecap="round" stroke-linejoin="round"/>
<path d="M547.4,53.2 L548.1,53.7 L548.9,54.3 L549.6,54.8 L550.3,55.3 L551.0,55.9 L551.8,56.4 L552.5,56.9 L553.2,57.5 L554.0,58.0 L554.7,58.5 L555.4,59.1 L556.1,59.6 L556.9,60.2 L557.6,60.7 L558.3,61.2 L559.1,61.8 L559.8,62.3 L560.5,62.8 L561.3,63.4 L562.0,63.9 L562.7,64.4 L563.5,64.9 L564.2,65.4 L565.0,65.9 L565.7,66.4 L566.5,66.9 L567.2,67.4 L568.0,67.9 L568.8,68.4 L569.5,68.8 L570.3,69.3 L571.1,69.7 L571.9,70.2 L572.7,70.6 L573.5,71.1 L574.2,71.5 L575.0,72.0 L575.8,72.4 L576.6,72.8 L577.4,73.3 L578.2,73.7 L579.0,74.1 L579.8,74.6 L580.6,75.0 L581.4,75.5 L582.2,75.9 L582.9,76.4 L583.7,76.8 L584.5,77.3 L585.3,77.7 L586.1,78.1 L586.9,78.6 L587.7,79.0 L588.5,79.5 L589.2,79.9 L590.0,80.3 L590.8,80.8 L591.6,81.2 L592.4,81.6 L593.2,82.0 L594.1,82.4 L594.9,82.8 L595.7,83.1 L596.5,83.5 L597.3,83.9 L598.2,84.3 L599.0,84.6 L599.8,85.0 L600.7,85.3 L601.5,85.7 L602.3,86.0 L603.2,86.4 L604.0,86.7 L604.8,87.1 L605.7,87.4 L606.5,87.8 L607.3,88.1 L608.2,88.5 L609.0,88.8 L609.8,89.2 L610.7,89.5 L611.5,89.9 L612.3,90.3 L613.2,90.6 L614.0,91.0 L614.8,91.3 L615.7,91.7 L616.5,92.0 L617.3,92.4 L618.2,92.7 L619.0,93.0 L619.8,93.4 L620.7,93.7 L621.5,94.1 L622.4,94.4 L623.2,94.7 L624.0,95.0 L624.9,95.4 L625.7,95.7 L626.6,96.0 L627.4,96.3 L628.3,96.6 L629.1,96.9 L630.0,97.2 L630.8,97.5 L631.7,97.8 L632.6,98.0 L633.4,98.3 L634.3,98.6 L635.1,98.9 L636.0,99.1 L636.9,99.4 L637.7,99.7 L638.6,99.9 L639.5,100.2 L640.3,100.4 L641.2,100.7 L642.1,101.0 L642.9,101.2 L643.8,101.5 L644.7,101.8 L645.5,102.0 L646.4,102.3 L647.2,102.6 L648.1,102.9 L649.0,103.1 L649.8,103.4 L650.7,103.7 L651.5,104.0 L652.4,104.2 L653.3,104.5 L654.1,104.8 L655.0,105.0 L655.9,105.3 L656.7,105.6 L657.6,105.8 L658.5,106.1 L659.3,106.3 L660.2,106.5 L661.1,106.8 L661.9,107.0 L662.8,107.3 L663.7,107.5 L664.6,107.7 L665.4,107.9 L666.3,108.2 L667.2,108.4 L668.1,108.6 L668.9,108.8 L669.6,109.0" fill="none" stroke="#ee0c12" stroke-width="3.8" stroke-linecap="round" stroke-linejoin="round"/>
<path d="M548.0,53.8 L548.7,54.3 L549.5,54.9 L550.2,55.4 L550.9,55.9 L551.6,56.5 L552.4,57.0 L553.1,57.5 L553.8,58.1 L554.6,58.6 L555.3,59.1 L556.0,59.7 L556.7,60.2 L557.5,60.8 L558.2,61.3 L558.9,61.8 L559.7,62.4 L560.4,62.9 L561.1,63.4 L561.9,64.0 L562.6,64.5 L563.3,65.0 L564.1,65.5 L564.8,66.0 L565.6,66.5 L566.3,67.0 L567.1,67.5 L567.8,68.0 L568.6,68.5 L569.4,69.0 L570.1,69.4 L570.9,69.9 L571.7,70.3 L572.5,70.8 L573.3,71.2 L574.1,71.7 L574.8,72.1 L575.6,72.6 L576.4,73.0 L577.2,73.4 L578.0,73.9 L578.8,74.3 L579.6,74.7 L580.4,75.2 L581.2,75.6 L582.0,76.1 L582.8,76.5 L583.5,77.0 L584.3,77.4 L585.1,77.9 L585.9,78.3 L586.7,78.7 L587.5,79.2 L588.3,79.6 L589.1,80.1 L589.8,80.5 L590.6,80.9 L591.4,81.4 L592.2,81.8 L593.0,82.2 L593.8,82.6 L594.7,83.0 L595.5,83.4 L596.3,83.7 L597.1,84.1 L597.9,84.5 L598.8,84.9 L599.6,85.2 L600.4,85.6 L601.3,85.9 L602.1,86.3 L602.9,86.6 L603.8,87.0 L604.6,87.3 L605.4,87.7 L606.3,88.0 L607.1,88.4 L607.9,88.7 L608.8,89.1 L609.6,89.4 L610.4,89.8 L611.3,90.1 L612.1,90.5 L612.9,90.9 L613.8,91.2 L614.6,91.6 L615.4,91.9 L616.3,92.3 L617.1,92.6 L617.9,93.0 L618.8,93.3 L619.6,93.6 L620.4,94.0 L621.3,94.3 L622.1,94.7 L623.0,95.0 L623.8,95.3 L624.6,95.6 L625.5,96.0 L626.3,96.3 L627.2,96.6 L628.0,96.9 L628.9,97.2 L629.7,97.5 L630.6,97.8 L631.4,98.1 L632.3,98.4 L633.2,98.6 L634.0,98.9 L634.9,99.2 L635.7,99.5 L636.6,99.7 L637.5,100.0 L638.3,100.3 L639.2,100.5 L640.1,100.8 L640.9,101.0 L641.8,101.3 L642.7,101.6 L643.5,101.8 L644.4,102.1 L645.3,102.4 L646.1,102.6 L647.0,102.9 L647.8,103.2 L648.7,103.5 L649.6,103.7 L650.4,104.0 L651.3,104.3 L652.1,104.6 L653.0,104.8 L653.9,105.1 L654.7,105.4 L655.6,105.6 L656.5,105.9 L657.3,106.2 L658.2,106.4 L659.1,106.7 L659.9,106.9 L660.8,107.1 L661.7,107.4 L662.5,107.6 L663.4,107.9 L664.3,108.1 L665.2,108.3 L666.0,108.5 L666.9,108.8 L667.8,109.0 L668.7,109.2 L669.5,109.4 L670.2,109.6" fill="none" stroke="#0c0cd8" stroke-width="3.8" stroke-linecap="round" stroke-linejoin="round"/>
<path d="M511.6,50.8 L512.5,51.6 L513.4,52.4 L514.3,53.1 L515.2,53.9 L516.0,54.7 L516.9,55.4 L517.8,56.2 L518.7,57.0 L519.6,57.7 L520.5,58.5 L521.4,59.2 L522.3,60.0 L523.2,60.7 L524.2,61.5 L525.1,62.2 L526.0,63.0 L526.9,63.7 L527.8,64.4 L528.8,65.1 L529.7,65.9 L530.6,66.6 L531.6,67.3 L532.5,68.0 L533.5,68.7 L534.4,69.3 L535.4,70.0 L536.4,70.7 L537.4,71.3 L538.3,72.0 L539.3,72.6 L540.3,73.3 L541.3,73.9 L542.3,74.5 L543.3,75.1 L544.3,75.7 L545.4,76.3 L546.4,76.8 L547.4,77.4 L548.5,78.0 L549.5,78.5 L550.5,79.1 L551.5,79.7 L552.6,80.3 L553.6,80.9 L554.6,81.5 L555.6,82.1 L556.5,82.8 L557.5,83.4 L558.5,84.1 L559.5,84.8 L560.4,85.5 L561.4,86.2 L562.4,86.8 L563.3,87.5 L564.3,88.1 L565.3,88.7 L566.3,89.3 L567.3,89.9 L568.4,90.4 L569.4,90.9 L570.5,91.4 L571.6,91.9 L572.7,92.3 L573.8,92.7 L574.9,93.1 L576.0,93.5 L577.1,93.9 L578.2,94.3 L579.3,94.7 L580.5,95.1 L581.6,95.6 L582.6,96.0 L583.7,96.4 L584.8,96.9 L585.9,97.3 L587.0,97.8 L588.1,98.2 L589.2,98.7 L590.3,99.1 L591.4,99.6 L592.4,100.0 L593.5,100.4 L594.6,100.8 L595.7,101.2 L596.9,101.6 L598.0,102.0 L599.1,102.4 L600.2,102.8 L601.3,103.2 L602.4,103.6 L603.5,103.9 L604.6,104.3 L605.7,104.7 L606.9,105.1 L608.0,105.5 L609.1,105.9 L610.2,106.3 L611.3,106.7 L612.4,107.1 L613.5,107.5 L614.6,107.9 L615.7,108.2 L616.8,108.6 L617.9,109.0 L619.1,109.4 L620.2,109.8 L621.3,110.2 L622.4,110.6 L623.5,111.0 L624.6,111.3 L625.7,111.7 L626.8,112.1 L628.0,112.4 L629.1,112.8 L630.2,113.2 L631.3,113.5 L632.4,113.9 L633.6,114.3 L634.7,114.6 L635.8,115.0 L636.9,115.3 L638.0,115.7 L639.2,116.0 L640.3,116.3 L641.4,116.7 L642.6,117.0 L643.7,117.3 L644.8,117.6 L646.0,118.0 L647.1,118.3 L648.2,118.6 L649.4,118.9 L650.5,119.2 L651.6,119.5 L652.8,119.8 L653.9,120.1 L655.0,120.4 L656.2,120.7 L657.3,121.0 L658.5,121.2 L659.6,121.5 L660.8,121.8 L661.9,122.1 L663.0,122.4 L664.2,122.7 L665.3,122.9 L666.5,123.2 L667.6,123.5 L668.7,123.8 L669.6,124.0" fill="none" stroke="#ee0c12" stroke-width="3.8" stroke-linecap="round" stroke-linejoin="round"/>
<path d="M512.2,51.4 L513.1,52.2 L514.0,53.0 L514.9,53.7 L515.8,54.5 L516.6,55.3 L517.5,56.0 L518.4,56.8 L519.3,57.6 L520.2,58.3 L521.1,59.1 L522.0,59.8 L522.9,60.6 L523.8,61.3 L524.8,62.1 L525.7,62.8 L526.6,63.6 L527.5,64.3 L528.4,65.0 L529.4,65.7 L530.3,66.5 L531.2,67.2 L532.2,67.9 L533.1,68.6 L534.1,69.3 L535.0,69.9 L536.0,70.6 L537.0,71.3 L538.0,71.9 L538.9,72.6 L539.9,73.2 L540.9,73.9 L541.9,74.5 L542.9,75.1 L543.9,75.7 L544.9,76.3 L546.0,76.9 L547.0,77.4 L548.0,78.0 L549.1,78.6 L550.1,79.1 L551.1,79.7 L552.1,80.3 L553.2,80.9 L554.2,81.5 L555.2,82.1 L556.2,82.7 L557.1,83.4 L558.1,84.0 L559.1,84.7 L560.1,85.4 L561.0,86.1 L562.0,86.8 L563.0,87.4 L563.9,88.1 L564.9,88.7 L565.9,89.3 L566.9,89.9 L567.9,90.5 L569.0,91.0 L570.0,91.5 L571.1,92.0 L572.2,92.5 L573.3,92.9 L574.4,93.3 L575.5,93.7 L576.6,94.1 L577.7,94.5 L578.8,94.9 L579.9,95.3 L581.1,95.7 L582.2,96.2 L583.2,96.6 L584.3,97.0 L585.4,97.5 L586.5,97.9 L587.6,98.4 L588.7,98.8 L589.8,99.3 L590.9,99.7 L592.0,100.2 L593.0,100.6 L594.1,101.0 L595.2,101.4 L596.3,101.8 L597.5,102.2 L598.6,102.6 L599.7,103.0 L600.8,103.4 L601.9,103.8 L603.0,104.2 L604.1,104.5 L605.2,104.9 L606.3,105.3 L607.5,105.7 L608.6,106.1 L609.7,106.5 L610.8,106.9 L611.9,107.3 L613.0,107.7 L614.1,108.1 L615.2,108.5 L616.3,108.8 L617.4,109.2 L618.5,109.6 L619.7,110.0 L620.8,110.4 L621.9,110.8 L623.0,111.2 L624.1,111.6 L625.2,111.9 L626.3,112.3 L627.4,112.7 L628.6,113.0 L629.7,113.4 L630.8,113.8 L631.9,114.1 L633.0,114.5 L634.2,114.9 L635.3,115.2 L636.4,115.6 L637.5,115.9 L638.6,116.3 L639.8,116.6 L640.9,116.9 L642.0,117.3 L643.2,117.6 L644.3,117.9 L645.4,118.2 L646.6,118.6 L647.7,118.9 L648.8,119.2 L650.0,119.5 L651.1,119.8 L652.2,120.1 L653.4,120.4 L654.5,120.7 L655.6,121.0 L656.8,121.3 L657.9,121.6 L659.1,121.8 L660.2,122.1 L661.4,122.4 L662.5,122.7 L663.6,123.0 L664.8,123.3 L665.9,123.5 L667.1,123.8 L668.2,124.1 L669.3,124.4 L670.2,124.6" fill="none" stroke="#0c0cd8" stroke-width="3.8" stroke-linecap="round" stroke-linejoin="round"/>
<path d="M394.5,101.6 L394.5,102.1 L394.6,102.7 L394.6,103.2 L394.7,103.7 L394.7,104.2 L394.7,104.8 L394.8,105.3 L394.8,105.8 L394.9,106.3 L394.9,106.9 L395.0,107.4 L395.0,107.9 L395.0,108.4 L395.1,109.0 L395.1,109.5 L395.2,110.0 L395.2,110.5 L395.3,111.1 L395.3,111.6 L395.4,112.1 L395.5,112.7 L395.5,113.2 L395.6,113.7 L395.6,114.2 L395.7,114.7 L395.8,115.3 L395.9,115.8 L396.0,116.3 L396.0,116.8 L396.1,117.4 L396.2,117.9 L396.3,118.4 L396.4,118.9 L396.6,119.4 L396.7,119.9 L396.8,120.5 L396.9,121.0 L397.1,121.5 L397.2,122.0 L397.4,122.5 L397.5,123.0 L397.7,123.5 L397.8,124.0 L398.0,124.5 L398.2,125.0 L398.4,125.5 L398.5,126.0 L398.7,126.5 L398.9,127.0 L399.1,127.5 L399.3,128.0 L399.5,128.5 L399.7,128.9 L399.9,129.4 L400.1,129.9 L400.3,130.4 L400.5,130.9 L400.7,131.4 L401.0,131.9 L401.2,132.3 L401.4,132.8 L401.7,133.3 L401.9,133.7 L402.2,134.2 L402.5,134.6 L402.8,135.1 L403.1,135.5 L403.4,136.0 L403.7,136.4" fill="none" stroke="#ee0c12" stroke-width="0.6" opacity="0.4"/>
<g fill="url(#gMR)"><circle cx="394.5" cy="101.6" r="1.65"/><circle cx="395.3" cy="111.2" r="1.65"/><circle cx="396.1" cy="117.2" r="1.65"/><circle cx="396.9" cy="120.8" r="1.65"/><circle cx="397.7" cy="123.6" r="1.65"/><circle cx="398.5" cy="125.9" r="1.65"/><circle cx="399.3" cy="127.9" r="1.65"/><circle cx="400.1" cy="129.9" r="1.65"/><circle cx="400.9" cy="131.7" r="1.65"/><circle cx="401.7" cy="133.3" r="1.65"/><circle cx="402.5" cy="134.7" r="1.65"/><circle cx="403.3" cy="135.9" r="1.65"/></g>
<path d="M403.4,136.0 L404.7,137.6 L406.2,139.1 L407.9,140.4 L409.6,141.7 L411.4,142.8 L413.3,143.7 L415.3,144.5 L417.3,145.2 L419.3,145.7 L421.4,146.1 L423.5,146.4 L425.6,146.7 L427.7,146.8 L429.9,146.9 L432.0,146.9 L434.1,146.9 L436.2,146.7 L438.3,146.5 L440.4,146.2 L442.5,145.9 L444.5,145.5 L446.6,145.0 L448.6,144.4 L450.7,143.8 L452.7,143.2 L454.7,142.5 L456.7,141.8 L458.7,141.1 L460.6,140.3 L462.6,139.5 L464.5,138.7 L466.5,137.9 L468.4,137.0 L470.3,136.0 L472.1,135.0 L474.0,133.9 L475.8,132.9 L477.6,131.8 L479.4,130.6 L481.2,129.5 L483.0,128.4 L484.7,127.3 L486.5,126.2 L488.4,125.1 L490.2,124.0 L492.0,122.9 L493.9,122.0 L495.8,121.0 L497.7,120.2 L499.7,119.4 L501.7,118.7 L503.7,118.0 L505.7,117.3 L507.7,116.6 L509.7,115.9 L511.6,115.1 L513.6,114.4 L515.6,113.7 L517.6,113.0 L519.6,112.4 L521.7,111.9 L523.7,111.4 L525.8,111.0 L527.9,110.6 L530.0,110.3 L532.1,110.0 L534.1,109.7 L536.2,109.4 L538.3,109.2 L540.4,108.9 L542.5,108.6 L544.6,108.3 L546.7,108.1 L548.8,108.0 L551.0,107.9 L553.1,108.0 L555.2,108.2 L557.3,108.4 L559.4,108.7 L561.4,109.1 L563.5,109.5 L565.6,109.9 L567.7,110.3 L569.8,110.7 L571.8,111.1 L573.9,111.6 L576.0,112.0 L578.0,112.5 L580.1,113.0 L582.1,113.5 L584.2,114.0 L586.2,114.5 L588.3,115.0 L590.3,115.5 L592.4,116.0 L594.4,116.5 L596.5,117.0 L598.5,117.5 L600.6,117.9 L602.7,118.4 L604.8,118.8 L606.8,119.1 L608.9,119.5 L611.0,119.8 L613.1,120.1 L615.2,120.5 L617.3,120.8 L619.4,121.1 L621.4,121.5 L623.5,121.9 L625.6,122.3 L627.7,122.7 L629.7,123.1 L631.8,123.5 L633.9,123.9 L636.0,124.3 L638.0,124.8 L640.1,125.2 L642.2,125.6 L644.2,126.1 L646.3,126.6 L648.3,127.1 L650.4,127.7 L652.4,128.2 L654.4,128.8 L656.5,129.4 L658.5,130.0 L660.5,130.5 L662.6,131.1 L664.6,131.7 L666.6,132.2 L668.7,132.8 L670.2,133.2" fill="none" stroke="#ee0c12" stroke-width="3.8" stroke-linecap="round" stroke-linejoin="round"/>
<path d="M394.5,125.1 L394.6,125.6 L394.6,126.1 L394.7,126.6 L394.7,127.2 L394.8,127.7 L394.9,128.2 L394.9,128.7 L395.0,129.2 L395.0,129.7 L395.1,130.3 L395.2,130.8 L395.3,131.3 L395.3,131.8 L395.4,132.3 L395.5,132.8 L395.6,133.3 L395.7,133.8 L395.7,134.4 L395.8,134.9 L395.9,135.4 L396.0,135.9 L396.1,136.4 L396.2,136.9 L396.3,137.4 L396.4,137.9 L396.5,138.4 L396.7,138.9 L396.8,139.4 L396.9,139.9 L397.0,140.4 L397.2,140.9 L397.3,141.4 L397.5,141.9 L397.6,142.4 L397.8,142.9 L397.9,143.4 L398.1,143.9 L398.3,144.4 L398.5,144.9 L398.7,145.4 L398.9,145.8 L399.1,146.3 L399.3,146.8 L399.6,147.2 L399.8,147.7 L400.1,148.1 L400.4,148.6 L400.7,149.0 L401.0,149.4 L401.3,149.9" fill="none" stroke="#0c0cd8" stroke-width="0.6" opacity="0.4"/>
<g fill="url(#gMB)"><circle cx="394.5" cy="125.1" r="1.65"/><circle cx="395.3" cy="131.6" r="1.65"/><circle cx="396.1" cy="136.3" r="1.65"/><circle cx="396.9" cy="139.9" r="1.65"/><circle cx="397.7" cy="142.7" r="1.65"/><circle cx="398.5" cy="145.0" r="1.65"/><circle cx="399.3" cy="146.7" r="1.65"/><circle cx="400.1" cy="148.2" r="1.65"/><circle cx="400.9" cy="149.3" r="1.65"/></g>
<path d="M401.0,149.4 L402.3,151.0 L403.8,152.5 L405.5,153.7 L407.3,154.7 L409.2,155.6 L411.2,156.3 L413.2,156.8 L415.2,157.3 L417.3,157.7 L419.3,158.0 L421.4,158.3 L423.5,158.5 L425.5,158.7 L427.6,158.7 L429.7,158.7 L431.8,158.6 L433.8,158.4 L435.9,158.2 L438.0,157.9 L440.0,157.6 L442.0,157.2 L444.1,156.8 L446.1,156.3 L448.1,155.8 L450.1,155.3 L452.1,154.7 L454.1,154.1 L456.1,153.5 L458.0,152.8 L460.0,152.1 L461.9,151.3 L463.8,150.5 L465.8,149.7 L467.7,148.9 L469.6,148.1 L471.5,147.4 L473.5,146.7 L475.4,146.0 L477.4,145.2 L479.3,144.5 L481.3,143.7 L483.2,142.9 L485.1,142.1 L486.9,141.2 L488.8,140.2 L490.6,139.2 L492.3,138.1 L494.1,137.0 L495.8,135.8 L497.5,134.6 L499.2,133.4 L500.9,132.2 L502.6,131.0 L504.3,129.8 L506.0,128.6 L507.7,127.5 L509.5,126.3 L511.2,125.2 L513.0,124.1 L514.7,123.0 L516.5,122.0 L518.3,120.9 L520.1,119.8 L521.9,118.8 L523.7,117.8 L525.6,116.8 L527.4,115.9 L529.4,115.2 L531.3,114.5 L533.3,113.9 L535.3,113.4 L537.3,112.8 L539.3,112.3 L541.3,111.7 L543.3,111.1 L545.3,110.5 L547.3,110.0 L549.4,109.6 L551.4,109.3 L553.5,109.1 L555.5,109.1 L557.6,109.2 L559.7,109.3 L561.8,109.6 L563.9,109.9 L565.9,110.2 L568.0,110.6 L570.0,111.0 L572.1,111.4 L574.1,111.8 L576.1,112.3 L578.1,112.8 L580.1,113.3 L582.1,113.8 L584.2,114.3 L586.2,114.8 L588.2,115.3 L590.2,115.8 L592.2,116.3 L594.2,116.8 L596.3,117.3 L598.3,117.7 L600.3,118.2 L602.3,118.6 L604.4,119.0 L606.4,119.4 L608.5,119.7 L610.5,120.0 L612.6,120.4 L614.6,120.7 L616.7,121.0 L618.7,121.3 L620.8,121.7 L622.8,122.0 L624.8,122.4 L626.9,122.8 L628.9,123.2 L631.0,123.6 L633.0,124.0 L635.0,124.4 L637.1,124.9 L639.1,125.3 L641.1,125.7 L643.2,126.2 L645.2,126.6 L647.2,127.1 L649.2,127.7 L651.2,128.2 L653.2,128.8 L655.2,129.3 L657.2,129.9 L659.2,130.4 L661.2,131.0 L663.2,131.6 L665.2,132.1 L667.2,132.7 L669.2,133.2 L670.2,133.5" fill="none" stroke="#0c0cd8" stroke-width="3.8" stroke-linecap="round" stroke-linejoin="round"/>
<path d="M403.1,33.4 L403.2,33.9 L403.3,34.4 L403.4,34.9 L403.4,35.4 L403.5,36.0 L403.6,36.5 L403.7,37.0 L403.8,37.5 L403.9,38.0 L404.1,38.5 L404.2,39.0 L404.3,39.5 L404.4,40.0 L404.6,40.5 L404.7,41.0 L404.9,41.5 L405.0,42.0 L405.1,42.5 L405.3,43.0 L405.4,43.5 L405.6,44.0 L405.8,44.5 L405.9,45.0 L406.1,45.5 L406.2,46.0 L406.4,46.5 L406.5,47.0 L406.7,47.5 L406.8,48.0 L407.0,48.5 L407.1,49.0 L407.3,49.5 L407.4,50.0 L407.5,50.5 L407.7,51.0 L407.8,51.5 L408.0,52.0 L408.1,52.5 L408.3,53.0 L408.4,53.5 L408.6,54.0 L408.7,54.5 L408.9,54.9 L409.0,55.4 L409.2,55.9 L409.3,56.4 L409.5,56.9 L409.6,57.4 L409.8,57.9 L409.9,58.4 L410.1,58.9 L410.2,59.4 L410.4,59.9 L410.6,60.4 L410.7,60.9 L410.9,61.4 L411.1,61.9 L411.3,62.4 L411.5,62.8" fill="none" stroke="#ee0c12" stroke-width="0.6" opacity="0.4"/>
<g fill="url(#gMR)"><circle cx="403.1" cy="33.4" r="1.65"/><circle cx="403.5" cy="35.6" r="1.65"/><circle cx="403.9" cy="37.7" r="1.65"/><circle cx="404.4" cy="39.9" r="1.65"/><circle cx="405.0" cy="42.0" r="1.65"/><circle cx="405.6" cy="44.1" r="1.65"/><circle cx="406.3" cy="46.2" r="1.65"/><circle cx="406.9" cy="48.3" r="1.65"/><circle cx="407.5" cy="50.4" r="1.65"/><circle cx="408.1" cy="52.5" r="1.65"/><circle cx="408.8" cy="54.6" r="1.65"/><circle cx="409.4" cy="56.7" r="1.65"/><circle cx="410.1" cy="58.8" r="1.65"/><circle cx="410.8" cy="60.9" r="1.65"/></g>
<path d="M411.3,62.4 L412.0,64.3 L412.9,66.2 L413.8,68.0 L414.9,69.8 L416.0,71.6 L417.1,73.3 L418.4,75.0 L419.7,76.6 L421.2,78.1 L422.8,79.4 L424.5,80.6 L426.3,81.6 L428.2,82.6 L430.1,83.4 L432.1,84.1 L434.0,84.7 L436.1,85.1 L438.1,85.4 L440.2,85.5 L442.3,85.4 L444.4,85.2 L446.4,85.0 L448.5,84.6 L450.6,84.2 L452.6,83.7 L454.6,83.2 L456.6,82.7 L458.6,82.1 L460.6,81.5 L462.6,80.9 L464.6,80.3 L466.5,79.7 L468.5,79.0 L470.5,78.4 L472.4,77.7 L474.4,77.1 L476.4,76.4 L478.4,75.8 L480.4,75.3 L482.4,74.7 L484.4,74.3 L486.5,74.1 L488.6,74.0 L490.6,74.1 L492.7,74.3 L494.8,74.5 L496.9,74.9 L498.9,75.3 L501.0,75.7 L503.0,76.1 L505.0,76.7 L507.0,77.2 L508.9,77.9 L510.9,78.6 L512.8,79.3 L514.8,80.1 L516.7,80.8 L518.7,81.6 L520.6,82.3 L522.6,82.9 L524.5,83.6 L526.5,84.4 L528.4,85.1 L530.3,86.0 L532.2,86.9 L534.1,87.8 L535.9,88.7 L537.8,89.6 L539.7,90.3 L541.7,91.0 L543.7,91.6 L545.7,92.1 L547.7,92.7 L549.7,93.2 L551.7,93.8 L553.7,94.5 L555.6,95.3 L557.5,96.0 L559.4,96.9 L561.3,97.7 L563.2,98.5 L565.1,99.4 L567.0,100.3 L568.9,101.1 L570.8,101.9 L572.7,102.7 L574.7,103.5 L576.6,104.3 L578.5,105.0 L580.5,105.8 L582.4,106.5 L584.4,107.2 L586.3,107.9 L588.3,108.6 L590.3,109.2 L592.2,109.9 L594.2,110.6 L596.1,111.3 L598.1,112.0 L600.0,112.7 L602.0,113.4 L604.0,114.1 L605.9,114.8 L607.9,115.5 L609.8,116.2 L611.8,116.8 L613.8,117.5 L615.7,118.2 L617.7,118.9 L619.6,119.6 L621.6,120.3 L623.5,121.0 L625.5,121.8 L627.4,122.5 L629.4,123.2 L631.3,123.9 L633.3,124.6 L635.3,125.2 L637.3,125.8 L639.3,126.4 L641.3,127.0 L643.3,127.5 L645.3,128.0 L647.3,128.6 L649.3,129.0 L651.3,129.5 L653.4,130.0 L655.4,130.4 L657.4,130.8 L659.5,131.2 L661.5,131.6 L663.5,132.0 L665.6,132.3 L667.6,132.7 L669.7,133.0 L670.2,133.1" fill="none" stroke="#ee0c12" stroke-width="3.8" stroke-linecap="round" stroke-linejoin="round"/>
<path d="M403.4,66.3 L403.5,66.8 L403.6,67.3 L403.7,67.8 L403.8,68.3 L403.9,68.8 L404.0,69.3 L404.1,69.8 L404.2,70.3 L404.3,70.8 L404.4,71.3 L404.5,71.8 L404.6,72.3 L404.7,72.8 L404.8,73.3 L404.9,73.8 L405.0,74.3 L405.1,74.8 L405.2,75.3 L405.3,75.8 L405.4,76.3 L405.5,76.8 L405.6,77.3 L405.8,77.8 L405.9,78.3 L406.0,78.8 L406.2,79.3 L406.3,79.8 L406.4,80.3 L406.6,80.8 L406.7,81.2 L406.9,81.7 L407.1,82.2 L407.2,82.7 L407.4,83.2 L407.6,83.7 L407.7,84.1 L407.9,84.6 L408.0,85.1 L408.2,85.6 L408.4,86.1 L408.5,86.6 L408.7,87.0 L408.9,87.5 L409.1,88.0 L409.2,88.5 L409.4,89.0 L409.6,89.4 L409.8,89.9 L410.0,90.4 L410.2,90.9 L410.4,91.3 L410.6,91.8 L410.8,92.3 L411.0,92.7 L411.2,93.2 L411.5,93.6 L411.7,94.1 L412.0,94.5 L412.3,94.9 L412.5,95.4 L412.8,95.8 L413.1,96.2 L413.4,96.6 L413.7,97.0 L414.0,97.4 L414.4,97.8" fill="none" stroke="#0c0cd8" stroke-width="0.6" opacity="0.4"/>
<g fill="url(#gMB)"><circle cx="403.4" cy="66.3" r="1.65"/><circle cx="404.2" cy="70.3" r="1.65"/><circle cx="405.0" cy="74.4" r="1.65"/><circle cx="405.8" cy="77.9" r="1.65"/><circle cx="406.6" cy="80.8" r="1.65"/><circle cx="407.4" cy="83.2" r="1.65"/><circle cx="408.2" cy="85.6" r="1.65"/><circle cx="409.0" cy="87.8" r="1.65"/><circle cx="409.8" cy="90.0" r="1.65"/><circle cx="410.6" cy="91.9" r="1.65"/><circle cx="411.4" cy="93.5" r="1.65"/><circle cx="412.2" cy="94.8" r="1.65"/><circle cx="413.0" cy="96.0" r="1.65"/><circle cx="413.8" cy="97.1" r="1.65"/></g>
<path d="M414.0,97.4 L415.3,99.0 L416.7,100.5 L418.2,102.0 L419.7,103.4 L421.3,104.6 L423.0,105.7 L424.8,106.7 L426.8,107.4 L428.7,108.0 L430.8,108.4 L432.8,108.7 L434.8,108.9 L436.9,109.0 L438.9,108.9 L440.9,108.7 L442.9,108.4 L445.0,108.0 L446.9,107.5 L448.9,107.0 L450.9,106.3 L452.8,105.7 L454.7,105.0 L456.6,104.2 L458.5,103.4 L460.3,102.5 L462.2,101.7 L464.0,100.8 L465.9,99.9 L467.7,99.0 L469.6,98.2 L471.4,97.3 L473.2,96.4 L475.1,95.5 L476.9,94.6 L478.7,93.7 L480.6,92.8 L482.4,91.9 L484.3,91.1 L486.2,90.3 L488.1,89.6 L490.0,89.0 L492.0,88.4 L494.0,87.9 L495.9,87.3 L497.9,86.7 L499.9,86.1 L501.8,85.5 L503.8,85.0 L505.8,84.5 L507.8,84.2 L509.8,84.0 L511.8,83.9 L513.9,84.0 L515.9,84.1 L518.0,84.3 L520.0,84.6 L522.1,84.9 L524.1,85.2 L526.1,85.6 L528.1,86.2 L530.0,86.8 L531.9,87.5 L533.8,88.3 L535.7,89.1 L537.6,89.9 L539.5,90.6 L541.4,91.3 L543.4,91.8 L545.3,92.4 L547.3,92.9 L549.3,93.4 L551.2,94.0 L553.2,94.6 L555.1,95.4 L557.0,96.1 L558.9,96.9 L560.7,97.7 L562.6,98.6 L564.5,99.4 L566.3,100.3 L568.2,101.1 L570.1,101.9 L572.0,102.7 L573.9,103.4 L575.8,104.2 L577.7,104.9 L579.6,105.6 L581.5,106.3 L583.4,107.0 L585.3,107.7 L587.3,108.4 L589.2,109.1 L591.1,109.8 L593.0,110.5 L594.9,111.2 L596.9,111.9 L598.8,112.6 L600.7,113.3 L602.6,114.0 L604.6,114.6 L606.5,115.3 L608.4,116.0 L610.3,116.6 L612.3,117.3 L614.2,118.0 L616.1,118.6 L618.1,119.3 L620.0,120.0 L621.9,120.7 L623.8,121.4 L625.7,122.1 L627.7,122.8 L629.6,123.5 L631.5,124.2 L633.4,124.8 L635.4,125.5 L637.3,126.1 L639.3,126.7 L641.3,127.2 L643.2,127.8 L645.2,128.3 L647.2,128.8 L649.2,129.3 L651.1,129.8 L653.1,130.2 L655.1,130.7 L657.1,131.1 L659.1,131.5 L661.1,131.8 L663.2,132.2 L665.2,132.5 L667.2,132.9 L669.2,133.2 L670.2,133.4" fill="none" stroke="#0c0cd8" stroke-width="3.8" stroke-linecap="round" stroke-linejoin="round"/>
<rect x="377.5" y="21.5" width="296.0" height="219.0" fill="none" stroke="#000" stroke-width="1"/>
<line x1="393.3" y1="240.5" x2="393.3" y2="236.0" stroke="#000" stroke-width="1"/>
<line x1="393.3" y1="21.5" x2="393.3" y2="26.0" stroke="#000" stroke-width="1"/>
<line x1="432.7" y1="240.5" x2="432.7" y2="238.0" stroke="#000" stroke-width="1"/>
<line x1="432.7" y1="21.5" x2="432.7" y2="24.0" stroke="#000" stroke-width="1"/>
<line x1="472.1" y1="240.5" x2="472.1" y2="236.0" stroke="#000" stroke-width="1"/>
<line x1="472.1" y1="21.5" x2="472.1" y2="26.0" stroke="#000" stroke-width="1"/>
<line x1="511.5" y1="240.5" x2="511.5" y2="238.0" stroke="#000" stroke-width="1"/>
<line x1="511.5" y1="21.5" x2="511.5" y2="24.0" stroke="#000" stroke-width="1"/>
<line x1="550.8" y1="240.5" x2="550.8" y2="236.0" stroke="#000" stroke-width="1"/>
<line x1="550.8" y1="21.5" x2="550.8" y2="26.0" stroke="#000" stroke-width="1"/>
<line x1="590.2" y1="240.5" x2="590.2" y2="238.0" stroke="#000" stroke-width="1"/>
<line x1="590.2" y1="21.5" x2="590.2" y2="24.0" stroke="#000" stroke-width="1"/>
<line x1="629.6" y1="240.5" x2="629.6" y2="236.0" stroke="#000" stroke-width="1"/>
<line x1="629.6" y1="21.5" x2="629.6" y2="26.0" stroke="#000" stroke-width="1"/>
<line x1="669.0" y1="240.5" x2="669.0" y2="238.0" stroke="#000" stroke-width="1"/>
<line x1="669.0" y1="21.5" x2="669.0" y2="24.0" stroke="#000" stroke-width="1"/>
<line x1="377.5" y1="240.4" x2="382.0" y2="240.4" stroke="#000" stroke-width="0.9"/>
<line x1="673.5" y1="240.4" x2="669.0" y2="240.4" stroke="#000" stroke-width="0.9"/>
<line x1="377.5" y1="227.0" x2="380.0" y2="227.0" stroke="#000" stroke-width="0.9"/>
<line x1="673.5" y1="227.0" x2="671.0" y2="227.0" stroke="#000" stroke-width="0.9"/>
<line x1="377.5" y1="219.2" x2="380.0" y2="219.2" stroke="#000" stroke-width="0.9"/>
<line x1="673.5" y1="219.2" x2="671.0" y2="219.2" stroke="#000" stroke-width="0.9"/>
<line x1="377.5" y1="213.6" x2="380.0" y2="213.6" stroke="#000" stroke-width="0.9"/>
<line x1="673.5" y1="213.6" x2="671.0" y2="213.6" stroke="#000" stroke-width="0.9"/>
<line x1="377.5" y1="209.3" x2="380.0" y2="209.3" stroke="#000" stroke-width="0.9"/>
<line x1="673.5" y1="209.3" x2="671.0" y2="209.3" stroke="#000" stroke-width="0.9"/>
<line x1="377.5" y1="205.8" x2="380.0" y2="205.8" stroke="#000" stroke-width="0.9"/>
<line x1="673.5" y1="205.8" x2="671.0" y2="205.8" stroke="#000" stroke-width="0.9"/>
<line x1="377.5" y1="202.8" x2="380.0" y2="202.8" stroke="#000" stroke-width="0.9"/>
<line x1="673.5" y1="202.8" x2="671.0" y2="202.8" stroke="#000" stroke-width="0.9"/>
<line x1="377.5" y1="200.2" x2="380.0" y2="200.2" stroke="#000" stroke-width="0.9"/>
<line x1="673.5" y1="200.2" x2="671.0" y2="200.2" stroke="#000" stroke-width="0.9"/>
<line x1="377.5" y1="197.9" x2="380.0" y2="197.9" stroke="#000" stroke-width="0.9"/>
<line x1="673.5" y1="197.9" x2="671.0" y2="197.9" stroke="#000" stroke-width="0.9"/>
<line x1="377.5" y1="195.9" x2="382.0" y2="195.9" stroke="#000" stroke-width="0.9"/>
<line x1="673.5" y1="195.9" x2="669.0" y2="195.9" stroke="#000" stroke-width="0.9"/>
<line x1="377.5" y1="182.5" x2="380.0" y2="182.5" stroke="#000" stroke-width="0.9"/>
<line x1="673.5" y1="182.5" x2="671.0" y2="182.5" stroke="#000" stroke-width="0.9"/>
<line x1="377.5" y1="174.7" x2="380.0" y2="174.7" stroke="#000" stroke-width="0.9"/>
<line x1="673.5" y1="174.7" x2="671.0" y2="174.7" stroke="#000" stroke-width="0.9"/>
<line x1="377.5" y1="169.1" x2="380.0" y2="169.1" stroke="#000" stroke-width="0.9"/>
<line x1="673.5" y1="169.1" x2="671.0" y2="169.1" stroke="#000" stroke-width="0.9"/>
<line x1="377.5" y1="164.8" x2="380.0" y2="164.8" stroke="#000" stroke-width="0.9"/>
<line x1="673.5" y1="164.8" x2="671.0" y2="164.8" stroke="#000" stroke-width="0.9"/>
<line x1="377.5" y1="161.3" x2="380.0" y2="161.3" stroke="#000" stroke-width="0.9"/>
<line x1="673.5" y1="161.3" x2="671.0" y2="161.3" stroke="#000" stroke-width="0.9"/>
<line x1="377.5" y1="158.3" x2="380.0" y2="158.3" stroke="#000" stroke-width="0.9"/>
<line x1="673.5" y1="158.3" x2="671.0" y2="158.3" stroke="#000" stroke-width="0.9"/>
<line x1="377.5" y1="155.7" x2="380.0" y2="155.7" stroke="#000" stroke-width="0.9"/>
<line x1="673.5" y1="155.7" x2="671.0" y2="155.7" stroke="#000" stroke-width="0.9"/>
<line x1="377.5" y1="153.4" x2="380.0" y2="153.4" stroke="#000" stroke-width="0.9"/>
<line x1="673.5" y1="153.4" x2="671.0" y2="153.4" stroke="#000" stroke-width="0.9"/>
<line x1="377.5" y1="151.4" x2="382.0" y2="151.4" stroke="#000" stroke-width="0.9"/>
<line x1="673.5" y1="151.4" x2="669.0" y2="151.4" stroke="#000" stroke-width="0.9"/>
<line x1="377.5" y1="138.0" x2="380.0" y2="138.0" stroke="#000" stroke-width="0.9"/>
<line x1="673.5" y1="138.0" x2="671.0" y2="138.0" stroke="#000" stroke-width="0.9"/>
<line x1="377.5" y1="130.2" x2="380.0" y2="130.2" stroke="#000" stroke-width="0.9"/>
<line x1="673.5" y1="130.2" x2="671.0" y2="130.2" stroke="#000" stroke-width="0.9"/>
<line x1="377.5" y1="124.6" x2="380.0" y2="124.6" stroke="#000" stroke-width="0.9"/>
<line x1="673.5" y1="124.6" x2="671.0" y2="124.6" stroke="#000" stroke-width="0.9"/>
<line x1="377.5" y1="120.3" x2="380.0" y2="120.3" stroke="#000" stroke-width="0.9"/>
<line x1="673.5" y1="120.3" x2="671.0" y2="120.3" stroke="#000" stroke-width="0.9"/>
<line x1="377.5" y1="116.8" x2="380.0" y2="116.8" stroke="#000" stroke-width="0.9"/>
<line x1="673.5" y1="116.8" x2="671.0" y2="116.8" stroke="#000" stroke-width="0.9"/>
<line x1="377.5" y1="113.8" x2="380.0" y2="113.8" stroke="#000" stroke-width="0.9"/>
<line x1="673.5" y1="113.8" x2="671.0" y2="113.8" stroke="#000" stroke-width="0.9"/>
<line x1="377.5" y1="111.2" x2="380.0" y2="111.2" stroke="#000" stroke-width="0.9"/>
<line x1="673.5" y1="111.2" x2="671.0" y2="111.2" stroke="#000" stroke-width="0.9"/>
<line x1="377.5" y1="108.9" x2="380.0" y2="108.9" stroke="#000" stroke-width="0.9"/>
<line x1="673.5" y1="108.9" x2="671.0" y2="108.9" stroke="#000" stroke-width="0.9"/>
<line x1="377.5" y1="106.9" x2="382.0" y2="106.9" stroke="#000" stroke-width="0.9"/>
<line x1="673.5" y1="106.9" x2="669.0" y2="106.9" stroke="#000" stroke-width="0.9"/>
<line x1="377.5" y1="93.5" x2="380.0" y2="93.5" stroke="#000" stroke-width="0.9"/>
<line x1="673.5" y1="93.5" x2="671.0" y2="93.5" stroke="#000" stroke-width="0.9"/>
<line x1="377.5" y1="85.7" x2="380.0" y2="85.7" stroke="#000" stroke-width="0.9"/>
<line x1="673.5" y1="85.7" x2="671.0" y2="85.7" stroke="#000" stroke-width="0.9"/>
<line x1="377.5" y1="80.1" x2="380.0" y2="80.1" stroke="#000" stroke-width="0.9"/>
<line x1="673.5" y1="80.1" x2="671.0" y2="80.1" stroke="#000" stroke-width="0.9"/>
<line x1="377.5" y1="75.8" x2="380.0" y2="75.8" stroke="#000" stroke-width="0.9"/>
<line x1="673.5" y1="75.8" x2="671.0" y2="75.8" stroke="#000" stroke-width="0.9"/>
<line x1="377.5" y1="72.3" x2="380.0" y2="72.3" stroke="#000" stroke-width="0.9"/>
<line x1="673.5" y1="72.3" x2="671.0" y2="72.3" stroke="#000" stroke-width="0.9"/>
<line x1="377.5" y1="69.3" x2="380.0" y2="69.3" stroke="#000" stroke-width="0.9"/>
<line x1="673.5" y1="69.3" x2="671.0" y2="69.3" stroke="#000" stroke-width="0.9"/>
<line x1="377.5" y1="66.7" x2="380.0" y2="66.7" stroke="#000" stroke-width="0.9"/>
<line x1="673.5" y1="66.7" x2="671.0" y2="66.7" stroke="#000" stroke-width="0.9"/>
<line x1="377.5" y1="64.4" x2="380.0" y2="64.4" stroke="#000" stroke-width="0.9"/>
<line x1="673.5" y1="64.4" x2="671.0" y2="64.4" stroke="#000" stroke-width="0.9"/>
<line x1="377.5" y1="62.4" x2="382.0" y2="62.4" stroke="#000" stroke-width="0.9"/>
<line x1="673.5" y1="62.4" x2="669.0" y2="62.4" stroke="#000" stroke-width="0.9"/>
<line x1="377.5" y1="49.0" x2="380.0" y2="49.0" stroke="#000" stroke-width="0.9"/>
<line x1="673.5" y1="49.0" x2="671.0" y2="49.0" stroke="#000" stroke-width="0.9"/>
<line x1="377.5" y1="41.2" x2="380.0" y2="41.2" stroke="#000" stroke-width="0.9"/>
<line x1="673.5" y1="41.2" x2="671.0" y2="41.2" stroke="#000" stroke-width="0.9"/>
<line x1="377.5" y1="35.6" x2="380.0" y2="35.6" stroke="#000" stroke-width="0.9"/>
<line x1="673.5" y1="35.6" x2="671.0" y2="35.6" stroke="#000" stroke-width="0.9"/>
<line x1="377.5" y1="31.3" x2="380.0" y2="31.3" stroke="#000" stroke-width="0.9"/>
<line x1="673.5" y1="31.3" x2="671.0" y2="31.3" stroke="#000" stroke-width="0.9"/>
<line x1="377.5" y1="27.8" x2="380.0" y2="27.8" stroke="#000" stroke-width="0.9"/>
<line x1="673.5" y1="27.8" x2="671.0" y2="27.8" stroke="#000" stroke-width="0.9"/>
<line x1="377.5" y1="24.8" x2="380.0" y2="24.8" stroke="#000" stroke-width="0.9"/>
<line x1="673.5" y1="24.8" x2="671.0" y2="24.8" stroke="#000" stroke-width="0.9"/>
<line x1="377.5" y1="22.2" x2="380.0" y2="22.2" stroke="#000" stroke-width="0.9"/>
<line x1="673.5" y1="22.2" x2="671.0" y2="22.2" stroke="#000" stroke-width="0.9"/>
<text x="393.3" y="256.3" font-size="13.5" text-anchor="middle" font-family="Liberation Sans, Arial, sans-serif">0</text>
<text x="472.1" y="256.3" font-size="13.5" text-anchor="middle" font-family="Liberation Sans, Arial, sans-serif">100</text>
<text x="550.8" y="256.3" font-size="13.5" text-anchor="middle" font-family="Liberation Sans, Arial, sans-serif">200</text>
<text x="629.6" y="256.3" font-size="13.5" text-anchor="middle" font-family="Liberation Sans, Arial, sans-serif">300</text>
<text x="506" y="276.3" font-size="18" font-family="Liberation Sans, Arial, sans-serif"><tspan font-style="italic">T</tspan> (K)</text>
<text x="372.4" y="245.3" font-size="13" text-anchor="end" font-family="Liberation Sans, Arial, sans-serif">10<tspan font-size="8" dy="-7.1">-4</tspan></text>
<text x="372.4" y="200.8" font-size="13" text-anchor="end" font-family="Liberation Sans, Arial, sans-serif">10<tspan font-size="8" dy="-7.1">-3</tspan></text>
<text x="372.4" y="156.3" font-size="13" text-anchor="end" font-family="Liberation Sans, Arial, sans-serif">10<tspan font-size="8" dy="-7.1">-2</tspan></text>
<text x="372.4" y="111.8" font-size="13" text-anchor="end" font-family="Liberation Sans, Arial, sans-serif">10<tspan font-size="8" dy="-7.1">-1</tspan></text>
<text x="372.4" y="67.3" font-size="13" text-anchor="end" font-family="Liberation Sans, Arial, sans-serif">10<tspan font-size="8" dy="-7.1">0</tspan></text>
<text transform="translate(346,132) rotate(-90)" font-size="16" text-anchor="middle" font-family="Liberation Sans, Arial, sans-serif">ρ (Ω·cm)</text>
<text x="425.3" y="34" font-size="13" font-family="Liberation Sans, Arial, sans-serif">4uc</text>
<text x="463.8" y="34" font-size="13" font-family="Liberation Sans, Arial, sans-serif">5uc</text>
<text x="497.2" y="34" font-size="13" font-family="Liberation Sans, Arial, sans-serif">6uc</text>
<text x="525.2" y="34" font-size="13" font-family="Liberation Sans, Arial, sans-serif">7uc</text>
<text x="607.6" y="34" font-size="13" font-family="Liberation Sans, Arial, sans-serif">12uc</text>
<text x="641.5" y="34" font-size="13" font-family="Liberation Sans, Arial, sans-serif">30uc</text>
<text x="416.2" y="11.8" font-size="15" font-style="italic" font-family="Liberation Sans, Arial, sans-serif">T</text>
<text x="424.4" y="18.4" font-size="10.5" font-family="Liberation Sans, Arial, sans-serif">C</text>
<text x="474.3" y="69" font-size="13.5" font-family="Liberation Sans, Arial, sans-serif">6 uc</text>
<text x="441.5" y="134.6" font-size="13.5" font-family="Liberation Sans, Arial, sans-serif">7 uc</text>
<text x="550.3" y="77.5" font-size="13.5" font-family="Liberation Sans, Arial, sans-serif">5 uc</text>
<text x="586.3" y="73.2" font-size="13.5" font-family="Liberation Sans, Arial, sans-serif">4 uc</text>
<text x="472.8" y="198.4" font-size="13.5" font-family="Liberation Sans, Arial, sans-serif">12 uc</text>
<text x="560" y="218" font-size="13.5" font-family="Liberation Sans, Arial, sans-serif">30 uc</text>
<text x="508.3" y="67" font-size="12.5" font-style="italic" font-family="Liberation Sans, Arial, sans-serif">T</text>
<text x="514.8" y="72.2" font-size="8" font-family="Liberation Sans, Arial, sans-serif">MIT</text>
<line x1="510.9" y1="68" x2="510.9" y2="77" stroke="#000" stroke-width="1.6"/>
<path d="M507.9,74 L513.9,74 L510.9,82.3 Z" fill="#000"/>
<path d="M482.9,71.2 L481.8,71.0 L480.7,70.9 L479.6,70.8 L478.5,70.8 L477.4,71.0 L476.4,71.2 L475.3,71.5 L474.3,71.9 L473.3,72.4 L472.3,72.9 L471.4,73.6 L470.6,74.3 L469.8,75.1 L469.1,75.9 L468.4,76.8 L467.9,77.7 L467.4,78.7 L467.0,79.8 L466.7,80.8 L466.5,81.9 L466.3,83.0 L466.3,84.1 L466.4,85.2 L466.5,86.3 L466.7,87.4 L467.1,88.4 L467.5,89.5 L468.0,90.5 L468.6,91.4 L469.2,92.3 L469.9,93.1 L470.7,93.9 L471.6,94.6 L472.5,95.2 L473.5,95.7 L474.5,96.2 L475.5,96.6 L476.6,96.9 L477.7,97.1" fill="none" stroke="#000" stroke-width="1.6"/><path d="M477.7,97.1 L478.7,97.2 L479.7,97.2 L480.7,97.1 L481.7,97.0 L482.7,96.8 L483.7,96.5 L484.7,96.1 L485.6,95.7 L486.5,95.2 L487.3,94.6 L488.1,94.0 L488.9,93.3 L489.6,92.5 L490.2,91.7 L490.8,90.9 L491.3,90.0 L491.7,89.1 L492.0,88.1 L492.3,87.1 L492.5,86.1 L492.7,85.1 L492.7,84.1 L492.7,83.1 L492.6,82.1 L492.4,81.1 L492.1,80.1 L491.8,79.1 L491.3,78.2 L490.9,77.3 L490.3,76.4 L489.7,75.6 L489.0,74.8 L488.3,74.1 L487.5,73.5 L486.6,72.9 L485.8,72.4 L484.8,71.9 L483.9,71.6 L482.9,71.2" fill="none" stroke="#000" stroke-width="1.9000000000000001" stroke-dasharray="1.3 1.7"/>
<path d="M491.3,120.4 L490.4,120.2 L489.5,120.0 L488.6,120.0 L487.7,120.0 L486.8,120.1 L485.9,120.3 L485.0,120.6 L484.1,120.9 L483.3,121.3 L482.5,121.8 L481.8,122.3 L481.1,122.9 L480.4,123.5 L479.8,124.2 L479.3,125.0 L478.8,125.8 L478.4,126.6 L478.1,127.5 L477.8,128.4 L477.6,129.3 L477.5,130.2 L477.5,131.1 L477.5,132.0 L477.7,132.9 L477.9,133.8 L478.1,134.7 L478.5,135.6 L478.9,136.4 L479.4,137.2 L479.9,137.9 L480.5,138.6 L481.2,139.2 L481.9,139.8 L482.7,140.3 L483.5,140.8 L484.3,141.2 L485.2,141.5 L486.1,141.7 L487.0,141.9" fill="none" stroke="#000" stroke-width="1.6"/><path d="M487.0,141.9 L487.8,142.0 L488.7,142.0 L489.5,142.0 L490.4,141.8 L491.2,141.7 L492.0,141.4 L492.8,141.1 L493.6,140.8 L494.3,140.3 L495.0,139.9 L495.7,139.3 L496.3,138.7 L496.9,138.1 L497.4,137.4 L497.9,136.7 L498.3,136.0 L498.7,135.2 L499.0,134.4 L499.2,133.6 L499.4,132.8 L499.5,131.9 L499.5,131.1 L499.5,130.2 L499.4,129.4 L499.2,128.5 L499.0,127.7 L498.7,126.9 L498.4,126.1 L498.0,125.4 L497.5,124.7 L497.0,124.0 L496.4,123.4 L495.8,122.8 L495.1,122.2 L494.4,121.7 L493.7,121.3 L493.0,120.9 L492.2,120.6 L491.3,120.4" fill="none" stroke="#000" stroke-width="1.9000000000000001" stroke-dasharray="1.3 1.7"/>
<path d="M561.4,80.0 L560.9,79.9 L560.4,79.8 L559.9,79.8 L559.3,79.8 L558.8,79.9 L558.3,80.0 L557.8,80.1 L557.3,80.3 L556.9,80.5 L556.4,80.8 L556.0,81.1 L555.6,81.4 L555.2,81.8 L554.9,82.2 L554.6,82.6 L554.3,83.1 L554.1,83.5 L553.9,84.0 L553.8,84.5 L553.7,85.0 L553.6,85.5 L553.6,86.1 L553.6,86.6 L553.7,87.1 L553.8,87.6 L554.0,88.1 L554.2,88.6 L554.4,89.0 L554.7,89.5 L555.0,89.9 L555.3,90.3 L555.7,90.6 L556.1,91.0 L556.5,91.3 L557.0,91.5 L557.4,91.7 L557.9,91.9 L558.4,92.0 L558.9,92.1" fill="none" stroke="#000" stroke-width="1.7"/><path d="M558.9,92.1 L559.4,92.2 L559.9,92.2 L560.4,92.2 L560.8,92.1 L561.3,92.0 L561.8,91.9 L562.2,91.7 L562.7,91.5 L563.1,91.3 L563.5,91.0 L563.9,90.7 L564.2,90.4 L564.5,90.0 L564.8,89.6 L565.1,89.2 L565.3,88.8 L565.5,88.4 L565.7,87.9 L565.8,87.5 L565.9,87.0 L566.0,86.5 L566.0,86.0 L566.0,85.6 L565.9,85.1 L565.8,84.6 L565.7,84.2 L565.6,83.7 L565.4,83.3 L565.1,82.8 L564.9,82.4 L564.6,82.1 L564.3,81.7 L563.9,81.4 L563.5,81.1 L563.2,80.8 L562.7,80.5 L562.3,80.3 L561.9,80.2 L561.4,80.0" fill="none" stroke="#000" stroke-width="2.0" stroke-dasharray="1.3 1.7"/>
<path d="M604.2,79.0 L603.7,78.9 L603.2,78.8 L602.7,78.8 L602.2,78.8 L601.7,78.9 L601.2,79.0 L600.7,79.1 L600.2,79.3 L599.8,79.5 L599.3,79.8 L598.9,80.1 L598.5,80.4 L598.2,80.7 L597.9,81.1 L597.6,81.5 L597.3,82.0 L597.1,82.4 L596.9,82.9 L596.8,83.4 L596.7,83.9 L596.6,84.3 L596.6,84.9 L596.6,85.4 L596.7,85.8 L596.8,86.3 L597.0,86.8 L597.1,87.3 L597.4,87.7 L597.6,88.2 L597.9,88.6 L598.3,88.9 L598.6,89.3 L599.0,89.6 L599.4,89.9 L599.9,90.1 L600.3,90.3 L600.8,90.5 L601.3,90.7 L601.8,90.7" fill="none" stroke="#000" stroke-width="1.7"/><path d="M601.8,90.7 L602.2,90.8 L602.7,90.8 L603.2,90.8 L603.6,90.7 L604.1,90.6 L604.5,90.5 L604.9,90.3 L605.4,90.1 L605.8,89.9 L606.2,89.6 L606.5,89.3 L606.9,89.0 L607.2,88.7 L607.5,88.3 L607.7,87.9 L607.9,87.5 L608.1,87.1 L608.3,86.7 L608.4,86.2 L608.5,85.8 L608.6,85.3 L608.6,84.8 L608.6,84.4 L608.5,83.9 L608.4,83.5 L608.3,83.0 L608.2,82.6 L608.0,82.2 L607.8,81.7 L607.5,81.4 L607.2,81.0 L606.9,80.6 L606.6,80.3 L606.2,80.0 L605.8,79.8 L605.4,79.5 L605.0,79.3 L604.6,79.1 L604.2,79.0" fill="none" stroke="#000" stroke-width="2.0" stroke-dasharray="1.3 1.7"/>
<path d="M485.3,203.4 L484.9,203.3 L484.4,203.2 L484.0,203.2 L483.5,203.2 L483.1,203.3 L482.6,203.4 L482.2,203.5 L481.8,203.6 L481.4,203.8 L481.0,204.1 L480.6,204.3 L480.2,204.6 L479.9,204.9 L479.6,205.3 L479.4,205.7 L479.1,206.0 L478.9,206.4 L478.8,206.9 L478.7,207.3 L478.6,207.7 L478.5,208.2 L478.5,208.6 L478.5,209.1 L478.6,209.5 L478.7,210.0 L478.8,210.4 L479.0,210.8 L479.2,211.2 L479.4,211.6 L479.7,212.0 L480.0,212.3 L480.3,212.6 L480.7,212.9 L481.0,213.2 L481.4,213.4 L481.8,213.6 L482.3,213.7 L482.7,213.9 L483.1,213.9" fill="none" stroke="#000" stroke-width="1.7"/><path d="M483.1,213.9 L483.6,214.0 L484.0,214.0 L484.4,214.0 L484.8,213.9 L485.2,213.8 L485.6,213.7 L486.0,213.6 L486.4,213.4 L486.8,213.2 L487.1,212.9 L487.4,212.7 L487.7,212.4 L488.0,212.1 L488.3,211.8 L488.5,211.4 L488.7,211.1 L488.9,210.7 L489.0,210.3 L489.1,209.9 L489.2,209.5 L489.3,209.1 L489.3,208.6 L489.3,208.2 L489.2,207.8 L489.2,207.4 L489.1,207.0 L488.9,206.6 L488.7,206.2 L488.5,205.8 L488.3,205.5 L488.1,205.2 L487.8,204.9 L487.5,204.6 L487.2,204.3 L486.8,204.1 L486.5,203.8 L486.1,203.7 L485.7,203.5 L485.3,203.4" fill="none" stroke="#000" stroke-width="2.0" stroke-dasharray="1.3 1.7"/>
<path d="M555.3,199.8 L554.8,199.7 L554.3,199.6 L553.9,199.6 L553.4,199.6 L552.9,199.7 L552.4,199.8 L552.0,199.9 L551.5,200.1 L551.1,200.3 L550.6,200.5 L550.2,200.8 L549.9,201.1 L549.5,201.5 L549.2,201.8 L548.9,202.2 L548.7,202.7 L548.5,203.1 L548.3,203.5 L548.2,204.0 L548.1,204.5 L548.0,205.0 L548.0,205.4 L548.0,205.9 L548.1,206.4 L548.2,206.9 L548.3,207.4 L548.5,207.8 L548.7,208.2 L549.0,208.6 L549.3,209.0 L549.6,209.4 L550.0,209.7 L550.3,210.0 L550.7,210.3 L551.2,210.6 L551.6,210.8 L552.0,210.9 L552.5,211.1 L553.0,211.1" fill="none" stroke="#000" stroke-width="1.7"/><path d="M553.0,211.1 L553.4,211.2 L553.9,211.2 L554.3,211.2 L554.8,211.1 L555.2,211.0 L555.7,210.9 L556.1,210.7 L556.5,210.5 L556.9,210.3 L557.2,210.1 L557.6,209.8 L557.9,209.5 L558.2,209.2 L558.5,208.8 L558.7,208.4 L559.0,208.0 L559.2,207.6 L559.3,207.2 L559.4,206.8 L559.5,206.3 L559.6,205.9 L559.6,205.4 L559.6,205.0 L559.5,204.5 L559.5,204.1 L559.3,203.7 L559.2,203.2 L559.0,202.8 L558.8,202.4 L558.5,202.1 L558.3,201.7 L558.0,201.4 L557.7,201.1 L557.3,200.8 L556.9,200.5 L556.6,200.3 L556.1,200.1 L555.7,199.9 L555.3,199.8" fill="none" stroke="#000" stroke-width="2.0" stroke-dasharray="1.3 1.7"/>
</svg>
</body></html>
